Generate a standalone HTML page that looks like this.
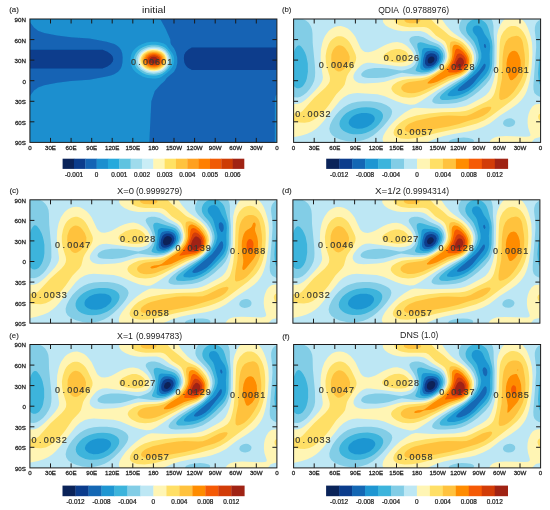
<!DOCTYPE html>
<html><head><meta charset="utf-8"><title>Figure</title><style>html,body{margin:0;padding:0;background:#fff;}
svg{position:absolute;left:0;top:0;}
text{font-family:"Liberation Sans",Arial,sans-serif;fill:#222;}
.ax text{font-size:6.2px;fill:#1e1e1e;stroke:#1e1e1e;stroke-width:0.26px;}
.cb{font-size:6.4px;fill:#1e1e1e;stroke:#1e1e1e;stroke-width:0.24px;}
.pl{font-size:8.1px;fill:#2a2a2a;stroke:#2a2a2a;stroke-width:0.12px;}
.ti{font-size:9.2px;fill:#222;}
.ts{font-size:8.3px;fill:#222;}
.cl{font-family:"Liberation Sans",Arial,sans-serif;font-size:9px;fill:#3a3a32;stroke:#3a3a32;stroke-width:0.2px;}
</style></head>
<body>
<svg width="550" height="510" viewBox="0 0 550 510">
<defs><filter id="sf" x="-2%" y="-2%" width="104%" height="104%"><feGaussianBlur stdDeviation="0.35"/></filter><clipPath id="ca"><rect x="29.9" y="19.0" width="247.0" height="123.4"/></clipPath><clipPath id="cb"><rect x="293.6" y="19.0" width="247.0" height="123.4"/></clipPath><clipPath id="cc"><rect x="29.9" y="199.8" width="247.0" height="123.4"/></clipPath><clipPath id="cd"><rect x="292.9" y="199.8" width="247.0" height="123.4"/></clipPath><clipPath id="ce"><rect x="29.9" y="344.5" width="247.0" height="123.4"/></clipPath><clipPath id="cf"><rect x="293.6" y="344.5" width="247.0" height="123.4"/></clipPath></defs>
<g clip-path="url(#ca)"><g filter="url(#sf)"><rect x="29.9" y="19.0" width="247.0" height="123.4" fill="#1c8fcf"/>
<path d="M147.9 78.0L152.0 78.5 156.1 78.5 159.6 77.8 161.6 76.8 167.1 72.7 170.3 69.7 172.4 67.0 173.7 64.2 174.2 61.5 174.2 58.8 173.7 56.0 172.4 53.3 167.8 47.1 165.8 44.8 163.7 43.5 160.3 42.4 156.1 41.8 151.3 41.8 146.5 42.5 142.4 43.9 138.3 46.1 135.6 48.2 132.8 51.2 131.5 54.0 130.6 57.4 130.5 61.5 131.3 65.6 132.8 69.0 135.6 72.1 139.0 74.6 143.1 76.7 147.6 78.0Z" fill="#26a9dc" fill-rule="evenodd"/>
<path d="M149.3 75.2L152.7 75.6 156.1 75.5 159.6 74.8 162.3 73.7 165.1 71.8 168.0 69.0 170.1 66.3 171.4 63.6 171.9 60.8 171.7 58.1 170.9 55.3 169.4 52.6 167.1 49.6 165.1 47.7 162.3 46.2 158.9 45.2 155.5 44.7 151.3 44.7 147.2 45.5 143.8 46.7 140.5 48.5 138.0 50.5 135.8 53.3 134.4 56.0 133.8 58.8 133.9 62.2 135.0 65.6 136.8 68.4 139.0 70.6 142.4 72.9 145.9 74.4 149.2 75.2Z" fill="#5fc3e0" fill-rule="evenodd"/>
<path d="M153.4 73.9L156.8 73.6 159.6 73.0 162.3 71.8 164.4 70.4 166.5 68.4 168.6 65.6 169.5 63.6 170.1 60.8 170.0 58.8 169.3 56.0 167.9 53.3 165.7 50.5 163.7 48.9 160.9 47.6 158.2 46.8 154.8 46.4 151.3 46.5 147.9 47.2 144.5 48.4 141.7 50.0 139.5 51.9 137.9 54.0 136.5 56.7 136.0 59.4 136.2 62.2 137.1 64.9 138.4 67.0 140.4 69.2 143.1 71.1 146.5 72.7 150.0 73.6 153.1 73.8Z" fill="#9fdbec" fill-rule="evenodd"/>
<path d="M153.4 72.5L156.8 72.3 159.6 71.6 161.6 70.7 163.7 69.3 166.0 67.0 167.4 64.9 168.2 62.9 168.6 60.1 168.3 57.4 167.5 55.3 166.3 53.3 164.4 51.2 162.3 49.8 159.6 48.6 154.1 47.8 150.7 48.0 147.9 48.6 145.2 49.7 143.1 50.9 141.1 52.6 139.4 54.6 138.4 56.7 137.8 59.4 138.0 62.2 138.6 64.2 139.9 66.3 141.8 68.4 143.8 69.8 146.5 71.2 149.3 72.0 152.8 72.5Z" fill="#c9edf6" fill-rule="evenodd"/>
<path d="M151.3 71.2L154.1 71.3 156.8 71.1 159.6 70.3 161.6 69.4 163.7 67.8 165.0 66.3 166.3 64.2 167.1 62.2 167.3 60.1 167.1 58.1 166.5 56.0 165.1 53.6 163.7 52.2 161.6 50.8 156.8 49.2 154.1 48.9 151.3 49.1 148.6 49.7 145.9 50.7 143.8 52.0 141.6 54.0 140.3 56.0 139.5 58.1 139.2 60.1 139.5 62.2 140.3 64.2 141.6 66.3 143.8 68.3 145.9 69.5 150.8 71.1Z" fill="#fff6b4" fill-rule="evenodd"/>
<path d="M150.0 69.9L154.8 70.3 159.6 69.2 163.0 67.0 164.4 65.4 165.4 63.6 166.0 61.5 166.1 59.4 165.7 57.4 164.9 55.3 163.7 53.8 161.6 52.1 157.5 50.4 152.7 50.0 147.9 51.0 144.1 53.3 142.7 54.6 141.4 56.7 140.7 58.8 140.6 60.8 141.7 64.3 143.1 66.1 145.0 67.7 147.2 68.9 149.5 69.7Z" fill="#ffe164" fill-rule="evenodd"/>
<path d="M151.3 69.1L156.1 69.1 160.3 67.7 163.0 65.4 164.7 62.2 164.9 58.8 164.4 56.8 163.6 55.3 162.3 53.9 160.4 52.6 156.1 51.2 151.3 51.2 147.2 52.5 144.3 54.6 143.1 56.1 142.2 58.1 141.9 59.4 142.0 61.5 142.8 63.6 143.7 64.9 145.2 66.4 147.0 67.7 151.1 69.0Z" fill="#ffc33f" fill-rule="evenodd"/>
<path d="M150.0 67.8L154.1 68.3 157.5 67.8 160.9 66.0 163.0 63.6 163.6 62.2 163.9 60.1 163.6 58.1 163.1 56.7 160.9 54.2 157.5 52.5 153.4 52.0 149.3 52.7 145.9 54.6 143.8 57.4 143.3 58.8 143.2 60.8 144.1 63.6 146.5 66.1 149.7 67.7Z" fill="#ffa01f" fill-rule="evenodd"/>
<path d="M151.3 67.1L154.8 67.3 158.2 66.4 160.9 64.5 162.4 62.2 162.7 59.4 161.8 56.7 159.6 54.6 156.1 53.2 152.7 53.0 149.3 53.8 146.5 55.6 144.8 58.1 144.5 60.8 145.6 63.6 147.9 65.7 151.0 67.0Z" fill="#ff7f00" fill-rule="evenodd"/>
<path d="M150.7 65.8L154.1 66.2 156.8 65.8 158.9 64.7 160.7 62.9 161.4 60.8 161.1 58.1 159.6 56.0 156.8 54.5 154.1 54.0 150.7 54.5 148.6 55.5 146.7 57.4 145.9 59.4 145.9 60.8 146.3 62.2 147.9 64.2 150.2 65.6Z" fill="#f05a05" fill-rule="evenodd"/>
<path d="M152.7 65.0L155.5 64.9 157.5 64.1 159.0 62.9 159.9 60.8 159.8 58.8 158.9 57.3 157.2 56.0 154.8 55.3 152.0 55.4 150.0 56.2 148.5 57.4 147.4 59.4 147.6 61.5 148.5 62.9 150.3 64.2 152.4 64.9Z" fill="#cd3c05" fill-rule="evenodd"/>
<path d="M151.3 62.9L154.1 63.5 156.1 62.9 157.1 62.2 157.9 60.8 157.9 59.4 157.1 58.1 156.1 57.3 153.4 56.8 151.3 57.3 150.3 58.1 149.5 59.4 149.5 60.8 150.3 62.2 151.2 62.9Z" fill="#a02314" fill-rule="evenodd"/>
<path d="M150.0 142.4L274.8 142.4 274.9 99.9 275.5 96.0 276.2 95.0 276.9 94.6 276.9 19.0 160.3 19.0 165.8 29.3 170.3 39.6 170.4 42.3 171.1 44.4 174.0 48.3 175.8 51.9 177.2 57.4 177.3 62.9 176.2 67.7 174.0 71.8 166.7 78.0 164.8 80.7 160.4 84.8 154.8 91.0 151.3 101.3 149.3 142.4ZM30.1 95.8L34.0 90.6 37.2 88.2 38.1 87.6 44.3 85.2 57.3 82.8 71.1 81.0 89.6 79.7 105.4 76.8 110.9 75.5 114.3 74.3 118.1 71.8 120.5 69.0 121.8 65.9 122.5 62.2 122.7 57.4 122.2 53.3 121.2 50.3 119.5 47.8 117.3 45.7 114.3 43.9 106.7 41.7 89.6 38.5 71.1 37.2 57.3 35.5 44.3 33.0 38.1 30.7 34.0 27.6 29.9 22.1 29.9 96.1Z" fill="#1464b4" fill-rule="evenodd"/>
<path d="M191.8 69.9L276.9 69.9 276.9 47.6 191.8 47.6 188.4 49.5 185.7 51.9 184.3 54.6 183.8 58.1 184.3 62.2 185.6 65.3 187.9 67.7 191.5 69.7ZM30.6 68.5L102.6 68.5 107.4 66.4 110.6 64.2 112.8 61.5 113.3 58.8 112.4 56.0 110.6 54.0 107.4 51.8 102.6 49.7 29.9 49.7 29.9 68.5Z" fill="#0b3c8c" fill-rule="evenodd"/></g></g>
<rect x="29.9" y="19.0" width="247.0" height="123.4" fill="none" stroke="#1a1a1a" stroke-width="1"/>
<path d="M50.5 19.0v4.5M50.5 142.4v-4.5M71.1 19.0v4.5M71.1 142.4v-4.5M91.7 19.0v4.5M91.7 142.4v-4.5M112.2 19.0v4.5M112.2 142.4v-4.5M132.8 19.0v4.5M132.8 142.4v-4.5M153.4 19.0v4.5M153.4 142.4v-4.5M174.0 19.0v4.5M174.0 142.4v-4.5M194.6 19.0v4.5M194.6 142.4v-4.5M215.2 19.0v4.5M215.2 142.4v-4.5M235.7 19.0v4.5M235.7 142.4v-4.5M256.3 19.0v4.5M256.3 142.4v-4.5M29.9 39.6h4.5M276.9 39.6h-4.5M29.9 60.1h4.5M276.9 60.1h-4.5M29.9 80.7h4.5M276.9 80.7h-4.5M29.9 101.3h4.5M276.9 101.3h-4.5M29.9 121.8h4.5M276.9 121.8h-4.5" stroke="#1a1a1a" stroke-width="1" fill="none"/>
<g class="ax"><text x="29.9" y="149.9" text-anchor="middle">0</text><text x="50.5" y="149.9" text-anchor="middle">30E</text><text x="71.1" y="149.9" text-anchor="middle">60E</text><text x="91.7" y="149.9" text-anchor="middle">90E</text><text x="112.2" y="149.9" text-anchor="middle">120E</text><text x="132.8" y="149.9" text-anchor="middle">150E</text><text x="153.4" y="149.9" text-anchor="middle">180</text><text x="174.0" y="149.9" text-anchor="middle">150W</text><text x="194.6" y="149.9" text-anchor="middle">120W</text><text x="215.2" y="149.9" text-anchor="middle">90W</text><text x="235.7" y="149.9" text-anchor="middle">60W</text><text x="256.3" y="149.9" text-anchor="middle">30W</text><text x="276.9" y="149.9" text-anchor="middle">0</text><text x="25.9" y="21.9" text-anchor="end">90N</text><text x="25.9" y="42.5" text-anchor="end">60N</text><text x="25.9" y="63.0" text-anchor="end">30N</text><text x="25.9" y="83.6" text-anchor="end">0</text><text x="25.9" y="104.2" text-anchor="end">30S</text><text x="25.9" y="124.7" text-anchor="end">60S</text><text x="25.9" y="145.3" text-anchor="end">90S</text></g>
<g clip-path="url(#cb)"><g filter="url(#sf)"><rect x="293.6" y="19.0" width="247.0" height="123.4" fill="#bde7f4"/>
<path d="M383.5 142.0L383.8 142.4 426.6 142.4 436.4 138.3 443.9 135.9 452.1 134.2 469.2 131.3 475.4 129.8 483.0 127.0 489.8 123.4 500.1 115.5 511.1 108.5 517.3 103.9 520.7 100.7 523.1 97.8 525.2 94.4 526.8 91.0 528.2 86.6 529.6 81.0 531.6 67.7 532.5 53.3 532.0 43.0 531.0 37.9 529.3 32.0 527.5 27.2 525.3 23.1 523.4 20.8 521.5 19.0 504.9 19.0 502.9 21.0 500.8 23.9 498.2 30.0 497.0 35.5 496.5 63.6 495.9 69.0 495.0 74.5 493.3 81.5 491.2 87.5 489.0 91.7 486.0 95.1 482.0 97.8 470.4 104.0 465.8 105.9 461.0 107.1 454.2 107.9 432.2 108.5 415.7 107.7 413.0 108.2 410.9 109.0 404.8 112.6 399.3 116.7 394.5 121.1 389.3 126.6 385.7 131.4 383.4 135.5 382.5 139.0 382.7 140.3 383.3 141.7ZM489.8 142.4L531.4 142.4 534.4 138.7 536.5 137.9 540.6 137.1 540.6 104.0 538.5 103.9 535.1 104.5 532.4 106.5 530.0 110.2 528.5 114.3 527.7 118.4 527.6 123.2 528.2 127.7 530.4 134.2 530.4 135.5 529.7 136.2 528.2 136.6 525.5 136.8 506.3 136.1 498.1 136.5 494.6 137.4 492.6 138.4 490.5 140.3 489.2 142.4ZM294.3 137.0L301.8 135.4 307.3 133.7 312.1 131.4 316.2 128.7 319.7 125.6 323.1 121.8 339.6 101.0 343.7 97.3 348.5 94.6 352.6 93.4 357.4 92.9 377.3 94.2 384.2 95.9 396.5 101.2 403.4 103.5 410.2 104.7 414.4 104.4 416.4 103.7 420.5 101.4 436.1 91.0 445.2 85.5 451.2 82.1 460.3 77.6 463.8 75.6 466.5 73.6 469.2 70.8 471.5 67.7 472.8 64.9 474.0 60.1 474.0 56.0 472.7 51.5 470.2 47.1 467.5 43.7 463.8 40.1 454.2 33.4 450.9 30.7 446.0 25.2 441.7 19.0 383.1 19.0 382.9 21.1 383.3 22.4 385.4 25.2 389.0 27.6 393.8 29.6 397.9 30.6 402.7 31.2 416.4 30.9 420.5 31.1 424.0 31.9 426.7 33.3 433.3 38.2 441.1 42.8 443.9 45.5 445.7 49.2 446.8 53.3 447.0 56.7 446.2 60.1 444.8 62.9 443.2 64.9 439.1 68.9 432.9 72.9 426.7 75.4 420.5 76.3 406.1 76.5 401.3 77.0 397.0 78.0 384.9 81.7 378.0 82.8 364.3 83.5 358.8 82.9 356.0 81.6 354.4 80.0 353.4 78.0 353.5 75.2 354.7 72.5 357.4 68.9 360.8 65.5 363.6 63.7 367.0 62.8 370.4 62.7 395.8 66.1 401.3 66.4 406.1 65.9 410.2 64.5 411.6 63.6 412.9 62.2 413.7 60.6 414.1 58.8 414.1 56.7 413.7 54.6 412.4 51.9 411.0 49.9 407.5 46.4 404.8 44.5 402.0 43.1 397.2 42.0 392.4 42.4 387.6 43.9 384.2 45.4 375.9 49.9 371.8 51.6 368.4 52.3 365.0 51.9 362.9 50.7 360.8 48.5 355.3 36.8 352.9 33.4 350.5 30.8 347.8 28.6 344.4 26.9 340.9 26.1 337.5 26.2 334.8 26.9 332.7 27.9 330.7 29.2 328.4 31.3 325.0 36.1 323.4 39.6 322.3 43.0 320.9 49.9 320.6 57.4 321.0 64.2 322.9 77.3 322.5 80.0 321.3 82.8 318.9 86.2 314.7 91.0 308.7 97.1 304.6 100.6 301.8 102.5 299.1 103.6 297.0 104.0 293.6 104.0 293.6 137.1Z" fill="#fff5b4" fill-rule="evenodd"/>
<path d="M400.6 138.4L404.1 138.8 408.2 138.9 417.8 137.8 437.7 132.8 462.4 127.6 476.8 123.4 484.3 120.2 490.8 116.3 510.4 101.4 515.2 97.2 518.6 93.4 521.4 89.6 523.7 85.5 525.5 81.1 527.0 75.9 528.1 69.7 528.8 62.9 529.0 56.0 528.8 50.5 528.2 45.1 527.1 40.3 525.5 36.0 523.4 32.3 521.0 29.3 518.0 27.1 515.2 26.1 513.2 25.9 511.1 26.1 509.0 26.8 507.0 27.9 503.6 31.4 501.1 36.1 500.2 39.6 499.7 43.7 498.9 65.6 497.3 81.4 496.0 87.7 494.5 93.0 493.2 95.8 491.2 98.4 487.1 101.2 472.7 108.2 468.6 109.9 465.1 110.9 459.6 111.7 441.8 112.2 428.8 113.4 416.4 115.4 408.2 118.1 403.5 120.5 399.6 123.2 396.2 126.6 394.1 130.1 393.5 132.8 393.8 134.2 394.5 135.4 396.5 137.0 400.2 138.3ZM299.8 122.5L304.6 122.8 309.4 121.9 313.5 120.1 318.3 116.6 322.4 112.8 325.8 109.0 329.3 104.6 336.1 94.6 342.7 87.6 344.6 84.8 346.8 76.6 348.2 73.8 352.3 67.7 354.7 63.6 356.0 60.1 356.2 57.4 355.6 54.6 354.2 51.2 351.2 45.1 349.2 41.8 347.1 39.5 345.1 37.9 343.0 36.8 340.9 36.3 338.2 36.3 336.1 36.8 334.1 37.9 332.0 39.5 330.2 41.6 328.6 44.3 326.6 49.9 325.6 56.0 325.9 62.2 326.8 67.0 329.6 75.9 330.0 78.6 329.7 81.4 328.4 84.1 325.5 87.6 314.3 97.8 302.5 111.0 301.1 112.0 299.1 112.9 293.6 113.4 293.6 121.0 295.7 121.8 299.7 122.5ZM539.9 120.5L540.6 121.0 540.6 113.4 539.0 114.3 538.1 116.3 538.5 118.8 539.8 120.5ZM404.1 97.3L408.9 97.7 414.4 97.2 419.8 95.7 426.0 93.1 449.2 80.7 459.6 76.4 463.1 74.6 465.9 72.5 468.5 69.7 470.3 67.0 471.5 64.2 472.3 59.4 471.8 55.3 469.7 50.5 466.1 45.7 463.1 42.8 459.6 40.3 451.4 36.7 448.7 35.1 443.0 30.0 435.8 24.5 430.8 19.0 394.9 19.0 394.6 19.7 394.9 21.7 395.9 23.1 398.6 24.9 402.0 26.1 405.4 26.8 409.6 27.2 424.0 27.0 426.7 27.5 428.8 28.4 430.8 30.1 435.9 35.5 443.2 40.2 444.8 41.6 445.9 43.3 446.9 45.7 448.6 53.3 448.7 56.0 448.3 58.8 447.3 61.5 445.6 64.2 443.2 67.0 440.9 69.0 434.3 73.5 428.8 76.3 424.6 77.6 420.5 78.2 408.2 79.1 402.7 80.0 397.3 82.1 393.3 84.8 392.1 86.2 391.4 88.2 391.6 89.6 392.9 91.7 395.1 93.7 397.5 95.1 400.6 96.4 403.4 97.2ZM393.8 62.2L399.3 62.6 404.1 62.2 407.5 60.9 408.9 59.2 409.2 57.4 409.0 56.0 407.5 53.2 406.1 51.8 404.1 50.4 399.9 48.9 395.8 48.9 391.0 50.3 385.9 53.3 384.4 54.6 383.4 56.0 383.2 57.4 383.5 58.1 384.9 59.5 388.3 61.0 393.5 62.2Z" fill="#ffdf66" fill-rule="evenodd"/>
<path d="M408.2 132.2L412.3 132.6 418.5 132.1 432.9 129.2 448.7 126.5 459.1 123.9 467.9 120.9 478.2 117.9 483.3 115.7 487.5 112.9 490.2 110.2 491.3 108.1 491.3 107.4 490.5 106.7 487.8 106.8 483.0 108.1 478.5 110.2 471.3 114.1 466.5 115.7 461.7 116.1 448.7 115.6 441.1 116.0 429.6 117.7 416.4 120.8 410.2 123.3 408.0 124.6 405.8 126.6 404.7 128.7 404.9 130.1 406.1 131.3 408.0 132.1ZM501.5 99.9L504.2 99.2 507.7 97.4 510.6 95.1 513.7 91.7 517.3 86.6 520.7 80.7 522.7 75.9 523.9 71.8 524.8 65.6 525.0 59.4 524.6 54.0 522.9 43.0 522.1 40.3 520.7 37.8 518.6 36.2 516.6 35.8 511.8 36.7 508.4 38.6 506.0 41.6 504.2 46.2 503.3 51.2 502.6 57.4 502.0 78.6 499.8 89.6 499.2 94.4 499.3 98.5 500.1 99.6 500.8 99.9ZM408.2 93.1L411.6 93.3 415.0 93.0 419.2 92.0 423.3 90.6 435.6 85.1 448.7 78.6 461.0 74.2 464.4 72.1 467.0 69.7 469.3 66.3 470.6 62.2 470.5 58.1 469.5 54.6 466.7 49.9 462.4 45.1 459.0 42.7 454.8 41.3 452.1 41.4 450.7 42.1 450.2 43.0 449.7 45.7 450.5 54.0 450.1 58.1 448.2 62.9 445.2 67.0 442.5 69.6 439.1 72.1 430.8 77.0 427.4 78.8 422.6 80.2 409.6 82.0 406.8 82.8 404.1 84.1 402.4 85.5 401.4 86.9 401.2 88.2 401.6 89.6 403.8 91.7 407.9 93.0ZM337.5 71.3L338.9 71.6 340.9 71.2 344.4 68.9 347.8 64.4 349.6 60.1 349.7 56.7 348.2 52.6 345.5 48.5 343.7 46.8 342.3 45.9 340.9 45.4 338.9 45.3 336.8 46.0 335.5 47.0 334.1 48.4 332.8 50.5 331.4 54.6 331.2 59.4 332.1 64.2 334.1 68.4 335.5 69.9 337.1 71.1ZM409.6 23.2L414.4 23.2 418.5 22.3 420.2 21.1 420.3 20.4 419.9 19.7 419.1 19.0 405.2 19.0 404.4 20.4 404.8 21.3 406.4 22.4 408.9 23.1Z" fill="#ffc23e" fill-rule="evenodd"/>
<path d="M428.1 83.6L430.8 83.6 434.3 82.8 437.9 81.4 448.0 76.3 460.3 73.0 463.8 71.1 466.5 68.4 468.1 65.6 469.0 62.9 469.1 59.4 468.4 56.7 466.7 53.3 464.1 49.9 461.0 46.9 458.3 45.2 456.2 44.7 454.8 44.8 453.5 45.6 452.9 46.4 452.4 48.5 452.3 54.6 451.6 58.8 450.0 62.9 447.3 67.2 443.2 71.3 431.2 79.3 428.2 82.1 427.6 82.8 427.6 83.4ZM510.4 80.1L511.1 80.3 512.5 80.0 515.9 77.2 518.6 73.2 520.1 69.0 520.7 64.9 520.5 60.1 519.3 55.9 517.3 52.3 515.9 51.2 514.5 50.8 512.5 51.1 511.1 51.8 509.7 53.1 508.7 54.6 507.2 58.8 506.5 63.6 506.8 69.0 508.4 75.7 509.4 78.6 510.3 80.0Z" fill="#ff8c00" fill-rule="evenodd"/>
<path d="M449.3 72.5L456.2 72.4 461.0 71.1 464.4 68.8 465.9 67.0 466.9 64.9 467.5 62.9 467.5 60.1 467.1 58.1 466.2 56.0 464.4 53.5 462.4 51.3 460.3 49.7 458.3 48.8 456.9 48.8 456.2 49.1 455.2 50.5 453.1 59.4 448.2 70.4 448.1 71.8 449.2 72.5Z" fill="#f55a05" fill-rule="evenodd"/>
<path d="M454.2 70.0L457.6 70.3 461.0 69.4 463.4 67.7 465.3 64.9 465.9 62.2 465.4 58.8 463.8 56.0 461.0 53.8 459.6 53.4 458.3 53.7 457.3 54.6 456.2 56.6 452.6 66.3 452.6 68.4 453.7 69.7Z" fill="#d23c08" fill-rule="evenodd"/>
<path d="M457.6 67.8L459.6 67.7 461.3 67.0 462.7 65.6 463.8 63.6 463.9 61.5 463.5 60.1 462.4 58.4 461.0 57.6 459.6 57.6 458.3 58.5 456.2 62.1 455.5 65.6 456.1 67.0 457.1 67.7Z" fill="#a02314" fill-rule="evenodd"/>
<path d="M449.3 142.4L473.0 142.4 473.7 141.7 473.9 140.3 472.4 139.0 468.6 137.9 463.8 137.6 458.3 138.0 453.1 139.0 449.9 140.3 448.8 141.7 449.0 142.4ZM346.4 141.1L351.9 141.6 358.1 141.2 363.6 140.1 368.4 138.2 373.2 135.4 378.0 131.6 383.1 126.6 387.7 121.1 390.5 117.0 391.7 114.3 392.1 111.6 391.5 109.5 389.7 107.3 386.2 105.1 381.4 103.1 376.6 101.9 370.4 101.3 363.6 101.3 357.4 101.8 351.9 103.1 347.8 104.7 343.7 107.2 339.6 110.7 335.8 115.0 332.5 119.8 330.2 124.6 329.3 128.7 330.0 132.0 332.0 134.9 335.5 137.4 340.3 139.6 346.2 141.0ZM507.0 126.8L509.0 127.0 511.4 126.6 513.2 125.8 514.5 124.5 515.2 122.5 515.0 121.1 513.8 119.7 511.8 118.6 509.7 118.3 507.0 118.8 505.1 119.8 503.7 121.1 503.0 123.2 503.4 124.6 504.8 125.9 506.4 126.6ZM439.7 104.0L448.7 103.7 456.2 102.9 461.7 101.6 466.5 99.7 472.7 96.0 478.9 91.2 485.7 84.8 489.5 80.0 491.3 76.6 492.9 71.8 494.0 67.0 494.4 62.2 494.5 45.1 493.6 34.1 493.5 25.9 492.7 21.7 491.4 19.0 462.1 19.0 461.2 20.4 460.1 22.4 459.2 25.2 459.1 27.9 459.6 30.0 461.6 33.4 470.1 42.3 473.4 47.1 475.1 51.2 476.0 54.6 476.2 58.1 475.6 61.5 474.5 64.9 472.6 68.4 470.1 71.8 467.2 74.6 462.4 78.1 453.0 83.4 442.2 90.3 437.5 93.7 434.0 97.2 432.4 99.9 432.3 101.3 432.6 102.0 433.6 102.8 434.9 103.4 439.2 104.0ZM294.3 97.2L297.7 97.5 300.5 96.8 303.5 95.1 306.7 92.4 309.7 88.9 312.4 84.8 314.2 80.7 315.0 76.6 315.2 72.5 314.9 65.6 312.7 43.0 312.5 33.4 312.0 29.3 310.8 25.9 308.7 22.8 306.0 20.5 302.7 19.0 295.0 19.0 293.6 19.5 293.6 97.0 294.2 97.2ZM539.2 96.5L540.6 97.0 540.6 19.5 538.1 21.1 536.5 22.8 535.6 24.5 534.9 27.2 534.8 30.7 536.0 40.9 536.2 47.1 533.4 85.5 533.5 89.6 534.4 92.9 536.5 95.1 539.1 96.5ZM368.4 78.0L376.6 78.1 384.2 77.4 389.0 76.4 398.6 73.4 402.0 72.8 415.0 74.4 420.5 74.5 424.6 74.2 428.1 73.5 431.5 72.2 434.9 70.4 438.7 67.7 442.5 63.6 443.8 61.5 444.9 58.8 445.2 56.7 445.0 54.0 444.3 51.2 442.9 48.5 440.4 45.8 437.7 44.1 430.2 40.9 423.3 37.3 418.5 36.0 415.0 36.0 411.8 36.8 409.9 38.2 409.4 39.6 409.5 40.9 410.1 42.3 413.7 47.8 415.5 51.2 417.0 56.0 417.0 58.8 416.4 61.5 415.1 64.2 413.3 66.3 411.6 67.5 408.9 68.7 404.8 70.1 402.0 70.5 398.6 70.2 388.3 68.5 382.1 67.9 374.6 68.1 368.4 69.1 365.6 70.1 363.6 71.2 361.6 73.2 361.2 74.5 361.7 75.9 362.9 76.8 365.0 77.5 368.1 78.0Z" fill="#82cde6" fill-rule="evenodd"/>
<path d="M353.3 134.2L357.4 134.3 361.5 133.9 365.6 132.9 369.1 131.5 372.5 129.7 375.9 127.2 378.7 124.6 381.3 121.1 382.6 118.4 383.0 116.3 382.8 114.3 381.7 112.2 380.1 110.7 377.3 109.2 374.0 108.1 370.4 107.5 366.3 107.3 361.5 107.6 357.4 108.3 353.3 109.5 349.9 111.0 346.4 113.1 343.4 115.7 341.3 118.4 339.9 121.1 339.4 123.9 339.9 126.6 341.2 128.7 343.4 130.7 345.7 132.1 349.2 133.4 353.2 134.2ZM442.5 100.0L448.0 100.1 456.2 99.0 461.7 97.5 467.2 95.0 472.7 91.3 479.3 85.5 486.4 78.3 488.5 75.6 489.8 73.1 491.5 68.4 492.2 63.6 492.5 46.4 492.0 41.6 488.5 28.6 487.1 25.1 485.7 23.1 483.7 21.2 481.6 20.0 479.5 19.3 477.5 19.0 474.7 19.2 472.7 19.7 470.6 20.8 468.6 22.4 467.5 23.8 466.5 25.9 466.0 27.9 466.2 30.7 467.0 32.7 468.2 34.8 472.7 39.9 474.3 42.3 476.1 46.2 477.8 51.2 478.5 54.6 478.5 58.1 477.7 61.5 476.4 64.9 473.0 70.4 467.8 75.9 463.8 79.0 446.6 90.3 441.7 94.4 440.2 96.5 439.8 97.8 440.6 99.2 442.2 99.9ZM297.0 88.3L299.1 88.3 301.0 87.6 302.8 86.2 304.4 84.1 305.8 81.4 306.8 78.6 307.9 71.8 307.8 63.6 306.3 56.0 305.0 52.6 303.2 49.2 301.1 46.6 299.8 45.6 298.4 45.4 297.7 45.7 296.3 46.9 295.0 49.2 293.6 52.9 293.6 85.8 295.0 87.2 296.9 88.2ZM540.6 85.8L540.6 52.9 538.9 62.2 538.1 73.2 538.7 80.7 539.4 83.4 540.4 85.5ZM421.9 72.5L426.0 72.3 429.5 71.6 433.6 69.8 436.7 67.7 439.7 64.9 441.7 62.2 442.9 59.4 443.4 56.0 442.9 53.3 441.8 50.9 440.4 49.2 438.4 47.5 434.9 46.1 428.8 44.5 423.3 42.7 420.5 42.2 418.5 42.7 417.8 43.2 417.3 44.4 417.4 47.1 419.2 54.0 419.3 57.4 418.2 63.6 415.6 69.7 415.7 70.4 416.2 71.1 417.1 71.6 421.2 72.5Z" fill="#3cb4dc" fill-rule="evenodd"/>
<path d="M357.4 128.7L362.2 128.5 367.0 127.0 371.1 124.6 373.9 121.5 374.6 119.8 374.8 118.4 374.5 117.0 373.6 115.7 372.5 114.7 370.4 113.7 366.8 112.9 361.5 113.0 356.6 114.3 354.0 115.5 351.9 116.9 349.4 119.8 348.6 122.5 348.9 123.9 349.9 125.5 352.6 127.5 357.2 128.7ZM448.7 96.0L452.8 96.3 459.0 95.2 463.8 93.5 468.6 90.9 474.5 86.2 483.1 77.3 486.4 73.5 488.5 69.8 489.4 67.0 489.9 63.6 489.6 54.6 490.2 47.1 489.8 43.4 488.5 39.7 484.6 34.1 482.0 28.6 480.3 26.5 478.9 25.7 476.8 25.4 474.7 25.9 473.9 26.5 472.9 27.9 472.6 30.0 473.4 32.4 476.7 36.8 477.7 38.9 481.3 53.3 481.4 57.4 479.7 62.9 476.3 69.0 472.3 73.8 466.5 79.0 450.3 91.0 447.9 93.7 447.6 95.1 448.2 95.8ZM424.0 70.4L426.0 70.5 428.8 70.2 433.6 68.3 437.9 64.9 439.5 62.9 440.7 60.8 441.3 58.8 441.5 56.7 441.1 54.6 440.2 52.6 439.1 51.1 437.4 49.9 435.6 49.0 432.9 48.4 428.1 47.9 424.6 47.9 423.2 48.5 422.2 49.9 420.2 67.0 420.5 68.4 421.2 69.4 423.8 70.4Z" fill="#1e96d2" fill-rule="evenodd"/>
<path d="M458.3 91.0L461.0 91.0 465.1 89.5 469.2 86.9 473.1 83.4 484.3 69.5 485.2 67.7 485.7 65.6 485.4 64.2 485.0 63.7 484.3 63.7 483.7 64.2 479.3 70.4 476.2 73.8 459.5 87.6 457.9 89.6 457.7 90.3 458.2 91.0ZM426.0 68.4L429.5 68.3 432.9 67.0 436.3 64.5 438.5 61.5 439.5 58.1 439.1 55.2 438.4 53.9 437.1 52.6 434.3 51.1 430.8 50.7 428.1 51.1 426.0 52.1 424.6 53.9 423.2 58.8 422.7 64.2 422.9 65.6 423.6 67.0 424.6 67.9 425.8 68.4ZM485.0 48.1L485.7 47.9 486.2 46.4 485.5 44.4 485.0 44.0 484.3 44.1 483.9 45.1 484.0 46.4 484.7 47.8Z" fill="#1467b4" fill-rule="evenodd"/>
<path d="M428.1 66.3L430.8 66.0 433.6 64.7 435.6 62.7 437.0 60.3 437.3 58.1 436.8 56.0 434.9 54.1 432.9 53.4 430.8 53.3 428.7 54.0 427.0 55.3 425.8 57.4 425.0 60.8 425.1 63.6 426.0 65.3 428.1 66.3Z" fill="#0b3c8c" fill-rule="evenodd"/>
<path d="M428.8 63.2L430.1 63.5 431.5 63.2 433.7 61.5 434.4 60.1 434.5 58.8 433.6 57.0 432.2 56.4 430.8 56.5 428.8 57.8 427.9 59.4 427.7 60.8 427.9 62.2 428.4 62.9Z" fill="#0a2359" fill-rule="evenodd"/></g></g>
<rect x="293.6" y="19.0" width="247.0" height="123.4" fill="none" stroke="#1a1a1a" stroke-width="1"/>
<path d="M314.2 19.0v4.5M314.2 142.4v-4.5M334.8 19.0v4.5M334.8 142.4v-4.5M355.4 19.0v4.5M355.4 142.4v-4.5M375.9 19.0v4.5M375.9 142.4v-4.5M396.5 19.0v4.5M396.5 142.4v-4.5M417.1 19.0v4.5M417.1 142.4v-4.5M437.7 19.0v4.5M437.7 142.4v-4.5M458.3 19.0v4.5M458.3 142.4v-4.5M478.9 19.0v4.5M478.9 142.4v-4.5M499.4 19.0v4.5M499.4 142.4v-4.5M520.0 19.0v4.5M520.0 142.4v-4.5M293.6 39.6h4.5M540.6 39.6h-4.5M293.6 60.1h4.5M540.6 60.1h-4.5M293.6 80.7h4.5M540.6 80.7h-4.5M293.6 101.3h4.5M540.6 101.3h-4.5M293.6 121.8h4.5M540.6 121.8h-4.5" stroke="#1a1a1a" stroke-width="1" fill="none"/>
<g class="ax"><text x="293.6" y="149.9" text-anchor="middle">0</text><text x="314.2" y="149.9" text-anchor="middle">30E</text><text x="334.8" y="149.9" text-anchor="middle">60E</text><text x="355.4" y="149.9" text-anchor="middle">90E</text><text x="375.9" y="149.9" text-anchor="middle">120E</text><text x="396.5" y="149.9" text-anchor="middle">150E</text><text x="417.1" y="149.9" text-anchor="middle">180</text><text x="437.7" y="149.9" text-anchor="middle">150W</text><text x="458.3" y="149.9" text-anchor="middle">120W</text><text x="478.9" y="149.9" text-anchor="middle">90W</text><text x="499.4" y="149.9" text-anchor="middle">60W</text><text x="520.0" y="149.9" text-anchor="middle">30W</text><text x="540.6" y="149.9" text-anchor="middle">0</text></g>
<g clip-path="url(#cc)"><g filter="url(#sf)"><rect x="29.9" y="199.8" width="247.0" height="123.4" fill="#bde7f4"/>
<path d="M119.8 323.0L163.1 323.2 172.8 319.1 180.2 316.8 188.4 315.0 205.5 312.2 211.7 310.7 219.3 307.9 226.1 304.3 236.4 296.4 248.2 288.9 254.3 284.4 257.5 281.4 259.7 278.6 261.8 275.2 263.6 271.1 265.1 266.3 266.4 260.8 268.3 247.1 269.0 233.4 268.9 227.9 268.4 223.1 267.3 217.7 265.6 212.1 263.9 207.5 261.8 203.7 258.4 199.8 240.6 199.8 238.7 201.9 237.1 204.2 234.6 210.1 233.2 216.3 232.7 244.4 232.1 249.8 231.1 255.3 229.5 262.2 227.4 268.4 225.3 272.5 222.2 275.9 218.2 278.6 206.7 284.8 202.1 286.7 197.3 287.9 190.5 288.7 168.5 289.3 152.0 288.4 150.0 288.7 147.9 289.4 142.4 292.5 136.2 296.9 130.8 301.8 126.2 306.7 121.9 312.2 119.6 316.3 118.8 319.8 118.9 321.1 119.4 322.5ZM225.4 323.2L268.2 323.2 271.5 319.8 273.0 319.1 276.9 318.2 276.9 284.7 274.8 284.6 271.4 285.2 268.9 286.9 266.9 289.6 264.8 294.4 263.9 298.5 263.7 303.3 264.3 308.1 266.1 314.3 266.1 315.7 265.7 316.3 264.4 317.0 261.1 317.4 241.9 316.8 233.7 317.3 230.9 318.1 228.8 319.1 226.8 320.9 225.4 323.2ZM30.6 318.1L37.4 316.6 43.6 314.6 48.4 312.4 52.5 309.6 56.0 306.5 59.4 302.7 75.9 282.0 80.0 278.2 84.8 275.5 88.9 274.3 93.7 273.8 113.6 275.1 120.5 276.8 133.5 282.3 139.7 284.4 146.5 285.7 148.6 285.8 150.7 285.4 153.4 284.3 156.8 282.3 171.4 272.5 179.3 267.7 187.8 262.9 196.6 258.5 200.1 256.6 202.8 254.5 205.5 251.7 207.4 249.2 209.2 245.7 210.4 240.9 210.4 236.8 209.3 232.7 206.7 227.9 204.0 224.5 200.1 220.7 189.9 213.5 186.8 210.8 182.0 205.3 178.2 199.8 119.2 199.8 119.2 202.5 120.8 205.3 124.4 208.0 129.4 210.2 133.5 211.3 138.3 212.0 152.7 211.8 156.8 212.0 160.3 212.8 163.0 214.3 169.3 219.0 177.4 223.8 180.2 226.5 181.9 230.0 183.0 234.1 183.2 237.5 182.4 240.9 180.9 243.7 179.4 245.7 175.1 249.8 168.5 254.0 162.3 256.4 156.8 257.2 142.4 257.3 137.6 257.8 133.2 258.8 121.2 262.4 115.0 263.5 101.3 264.2 97.8 264.1 95.1 263.6 92.3 262.3 90.8 260.8 89.8 258.8 89.9 256.0 91.1 253.3 93.7 249.8 96.5 247.0 99.2 245.1 102.6 243.9 106.7 243.7 132.1 247.1 137.6 247.3 142.4 246.9 146.5 245.5 148.1 244.4 149.3 243.0 150.2 240.9 150.6 238.9 150.4 236.8 149.8 234.8 147.2 230.3 143.1 226.4 138.3 223.7 133.5 222.6 129.4 222.9 124.6 224.2 119.8 226.3 111.7 230.7 108.1 232.1 104.7 232.8 101.3 232.4 99.2 231.3 97.1 229.1 91.7 217.6 89.4 214.2 86.8 211.4 83.4 208.9 80.0 207.3 76.6 206.7 73.1 207.0 70.4 207.9 68.3 208.9 66.3 210.5 64.2 212.5 60.8 217.6 58.5 223.8 57.2 230.7 56.8 238.2 57.3 245.0 59.1 258.1 58.7 260.8 57.5 263.6 55.2 267.0 50.9 271.8 45.0 277.8 40.9 281.3 38.1 283.2 35.4 284.3 33.3 284.7 29.9 284.7 29.9 318.2Z" fill="#fff5b4" fill-rule="evenodd"/>
<path d="M141.1 319.8L147.9 319.6 156.1 318.3 174.3 313.6 200.7 307.9 209.0 305.7 215.2 303.5 222.0 300.4 228.2 296.6 248.1 281.4 253.4 276.6 256.4 273.2 259.2 269.0 261.2 264.9 263.1 259.4 264.4 253.3 265.3 247.1 265.8 239.6 265.7 232.7 265.3 227.2 264.3 222.4 263.0 218.3 261.1 214.1 259.1 211.0 256.3 208.3 253.6 206.6 250.1 205.8 248.1 205.9 246.0 206.4 244.0 207.3 242.1 208.7 239.1 212.1 236.9 216.9 235.7 223.8 234.9 246.4 233.3 262.2 232.1 268.4 230.8 273.2 229.6 276.2 227.8 278.6 225.4 280.6 222.9 282.1 207.6 289.5 202.1 291.5 195.9 292.4 176.7 293.0 162.3 294.5 151.3 296.5 147.2 297.7 143.1 299.4 138.3 302.1 134.2 305.5 130.9 309.5 129.6 312.9 129.7 314.3 130.1 315.7 132.2 317.7 135.8 319.1 140.8 319.8ZM36.1 304.1L40.9 304.2 45.7 303.2 49.8 301.3 54.6 297.8 58.0 294.6 62.1 290.1 65.7 285.5 72.4 275.8 79.4 268.4 81.3 265.6 83.3 257.4 84.7 254.6 91.2 244.4 92.6 240.9 92.9 238.2 92.4 236.1 91.3 233.4 87.7 225.9 85.6 222.4 83.4 220.0 81.4 218.4 79.3 217.4 77.2 216.8 75.2 216.8 73.1 217.2 71.1 218.0 68.7 219.7 66.9 221.6 65.4 223.8 64.1 226.5 62.9 230.0 61.8 236.1 61.9 242.3 62.8 247.4 65.7 256.7 66.1 259.4 65.7 262.2 64.4 264.9 61.5 268.4 50.4 278.6 38.8 291.1 36.8 292.5 35.4 293.1 29.9 293.5 29.9 302.7 32.0 303.4 35.6 304.0ZM276.9 302.7L276.9 293.5 275.5 294.0 274.4 295.1 273.9 296.5 273.8 297.8 274.6 300.6 275.5 301.7 276.8 302.6ZM139.7 278.1L145.2 278.6 150.7 278.1 156.1 276.6 162.3 274.0 185.6 261.7 195.9 257.4 199.4 255.6 202.5 253.3 204.9 250.8 206.8 247.8 208.0 245.0 208.9 240.2 208.3 236.1 206.3 231.3 202.8 226.5 200.0 223.8 196.6 221.2 193.2 219.3 187.7 217.0 185.4 215.6 179.5 210.3 173.0 205.3 167.5 199.8 130.9 199.8 130.7 201.9 131.9 203.9 134.2 205.5 137.6 206.8 141.1 207.6 145.2 208.0 159.6 208.0 162.3 208.5 164.4 209.4 166.4 211.0 171.9 216.6 178.8 221.0 180.8 222.8 182.2 224.9 183.1 227.2 184.7 234.1 184.8 236.8 184.4 239.6 183.3 242.3 181.6 245.0 179.3 247.8 176.7 250.0 169.2 255.0 164.4 257.3 160.3 258.5 144.5 259.8 138.6 260.8 133.3 262.9 129.3 265.6 128.1 267.0 127.5 268.4 127.4 269.7 128.3 271.8 130.3 273.8 132.8 275.5 135.6 276.9 139.1 278.0ZM132.1 243.7L137.6 243.8 141.7 243.2 143.8 242.4 144.8 241.6 146.0 239.6 146.2 238.2 145.8 236.1 144.6 234.1 143.5 232.7 141.7 231.3 139.7 230.1 135.6 229.0 130.8 229.4 125.4 231.3 120.2 234.8 119.0 236.1 118.4 237.5 118.6 238.9 119.1 239.6 121.8 241.4 126.6 242.9 132.0 243.7Z" fill="#ffdf66" fill-rule="evenodd"/>
<path d="M147.2 313.6L150.7 313.6 155.5 313.0 187.7 306.9 193.8 305.4 213.7 299.2 220.1 296.5 223.4 294.4 225.8 292.4 227.6 290.3 228.5 288.2 228.2 287.2 226.8 286.8 222.7 287.5 218.6 288.9 207.6 294.6 202.8 296.2 198.0 296.6 183.6 296.3 176.0 296.8 161.6 299.2 150.9 301.9 147.2 303.4 143.9 305.4 141.7 307.3 140.8 308.8 140.6 310.9 141.7 312.2 143.8 313.1 146.7 313.6ZM236.4 281.4L239.2 281.0 243.3 279.2 246.7 276.7 249.6 273.8 253.0 269.7 256.5 264.2 258.8 259.4 260.5 254.6 261.7 247.8 262.1 240.9 261.8 234.6 260.6 226.5 259.5 221.7 258.3 219.0 256.3 216.7 253.6 215.3 251.5 215.0 248.8 215.1 246.7 215.7 244.7 216.8 241.9 219.9 240.7 222.4 239.8 225.0 239.0 229.3 238.4 235.4 237.5 259.4 235.6 271.1 235.0 276.6 235.0 280.1 235.3 280.7 236.2 281.4ZM143.1 273.9L146.5 274.3 150.7 274.1 154.8 273.2 158.9 271.8 171.9 266.2 185.6 259.5 197.3 255.3 200.7 253.3 203.0 251.2 205.5 247.8 207.0 243.7 207.3 239.6 206.5 236.1 204.0 231.3 200.0 226.5 195.9 223.4 191.8 221.7 189.8 221.3 187.7 221.4 186.3 222.1 185.7 223.1 185.5 225.9 186.4 234.1 186.2 238.2 184.6 243.0 181.1 247.8 178.1 250.5 174.7 253.0 167.1 257.6 163.0 259.7 158.2 260.9 145.9 262.6 142.6 263.6 139.9 264.9 137.7 267.0 137.1 268.4 137.1 269.7 137.8 271.1 139.0 272.2 140.8 273.2 142.9 273.8ZM73.8 252.8L75.2 253.0 77.2 252.6 80.7 250.2 84.2 245.7 85.5 243.3 86.3 240.9 86.4 237.5 84.8 233.1 82.0 229.0 80.3 227.2 78.6 226.2 77.2 225.7 75.2 225.6 73.1 226.3 71.8 227.2 70.4 228.5 69.0 230.7 67.4 235.4 67.1 240.2 68.3 245.7 70.4 249.8 71.8 251.4 73.4 252.6ZM144.5 204.0L150.0 204.3 153.3 203.9 155.7 203.2 156.9 202.5 157.4 201.9 157.4 201.2 156.2 199.8 140.8 199.8 140.2 200.5 140.2 201.9 141.7 203.1 143.9 203.9Z" fill="#ffc23e" fill-rule="evenodd"/>
<path d="M243.3 270.0L244.7 269.5 246.0 268.2 253.6 258.9 255.7 255.3 257.4 250.5 258.0 246.4 258.0 241.6 257.2 236.8 255.1 230.7 255.0 228.6 255.7 225.2 255.6 223.8 254.9 222.7 254.3 222.4 253.2 223.1 251.8 226.5 250.8 227.8 247.4 229.7 245.3 231.6 243.8 234.1 242.7 237.5 241.9 241.6 241.7 245.7 242.0 250.5 243.3 260.1 243.2 262.9 242.3 267.7 242.4 269.0 242.8 269.7ZM152.0 268.4L156.1 267.7 160.3 266.0 167.1 265.1 171.2 263.9 185.0 257.5 194.6 254.9 197.2 254.0 200.1 252.3 202.1 250.5 204.5 247.1 205.7 243.7 205.8 240.2 205.0 236.8 202.8 232.9 199.2 228.6 195.9 226.0 192.5 224.6 191.1 224.6 189.8 225.0 188.5 226.5 188.0 229.3 188.1 236.1 187.5 239.6 185.5 244.4 182.2 248.9 178.1 252.5 169.5 258.1 161.6 264.0 158.9 265.1 154.3 265.6 151.8 266.3 150.7 267.0 150.4 267.7 151.6 268.4Z" fill="#ff8c00" fill-rule="evenodd"/>
<path d="M179.5 255.7L193.9 253.6 196.6 252.8 198.7 251.8 201.1 249.8 203.1 247.1 204.2 244.4 204.4 240.9 203.8 238.2 202.8 236.1 199.4 231.7 197.3 229.9 195.3 228.5 193.2 228.0 191.8 228.4 191.0 229.3 190.5 230.7 189.4 238.2 187.5 243.7 183.6 250.4 179.4 255.3ZM248.8 251.3L250.1 251.6 251.5 250.9 252.7 249.2 253.3 247.1 253.5 245.0 253.4 243.0 252.7 240.9 251.5 239.4 250.1 238.9 248.8 239.3 247.4 240.9 246.7 242.9 246.5 245.0 246.7 247.8 247.4 249.7 248.6 251.2Z" fill="#f55a05" fill-rule="evenodd"/>
<path d="M190.5 252.0L194.6 251.8 198.1 250.5 200.0 249.2 201.2 247.8 202.7 244.4 202.8 240.9 201.4 237.3 198.7 234.1 196.6 232.8 195.3 232.4 193.9 232.7 192.5 234.6 187.7 247.8 187.4 249.2 187.5 250.5 188.4 251.4 189.9 251.9Z" fill="#d23c08" fill-rule="evenodd"/>
<path d="M193.2 249.9L195.9 249.7 198.0 248.7 200.1 246.7 201.1 244.4 201.2 241.6 200.5 239.6 198.7 237.4 196.6 236.4 195.3 236.6 193.9 237.9 192.5 240.2 190.9 244.4 190.4 246.4 190.5 247.8 191.2 249.2 192.8 249.8Z" fill="#a02314" fill-rule="evenodd"/>
<path d="M185.0 322.8L185.1 323.2 209.5 323.2 210.3 322.1 210.4 321.1 209.0 319.8 206.9 319.1 202.8 318.5 198.0 318.4 193.2 318.9 189.2 319.8 186.0 321.1 184.9 322.5ZM82.0 321.9L87.5 322.5 93.7 322.2 98.5 321.4 104.0 319.5 108.8 316.8 113.6 313.1 118.4 308.5 123.0 303.3 126.0 299.2 127.9 295.8 128.6 293.0 128.0 290.4 126.2 288.2 122.5 285.8 118.4 284.0 113.6 282.8 107.4 282.0 100.6 282.0 93.7 282.6 88.2 283.8 84.1 285.4 80.0 287.9 75.9 291.4 72.5 295.1 69.1 299.9 66.7 304.7 65.6 308.8 65.9 312.2 67.6 315.2 71.1 318.0 75.9 320.3 81.7 321.8ZM242.6 307.5L244.7 307.9 247.4 307.6 249.5 306.8 250.9 305.4 251.5 304.0 251.4 301.9 250.1 300.3 248.1 299.3 246.0 299.0 243.3 299.5 241.2 300.6 239.9 301.9 239.2 304.0 239.6 305.4 240.9 306.7 242.4 307.4ZM174.7 284.8L181.5 284.8 191.8 284.0 197.3 282.8 202.1 281.0 208.3 277.4 214.0 273.2 222.0 265.9 225.4 261.7 227.5 257.8 229.1 253.3 230.2 248.5 230.7 243.7 230.8 225.9 229.9 214.9 229.9 206.0 229.3 202.5 228.0 199.8 198.0 199.8 197.1 201.2 195.8 203.9 195.2 206.0 195.1 208.7 195.6 210.8 196.7 212.8 198.3 214.9 206.9 223.8 210.0 228.6 211.6 232.7 212.4 236.1 212.4 239.6 211.7 243.0 210.4 246.4 208.5 249.8 205.7 253.3 202.8 256.0 198.7 258.9 189.3 264.2 178.5 271.1 173.8 274.5 170.8 277.3 169.2 279.3 168.6 280.7 168.5 282.1 168.8 282.8 170.7 284.1 174.3 284.8ZM30.6 278.0L34.0 278.3 36.8 277.6 39.8 275.9 43.1 273.2 46.1 269.7 48.8 265.6 50.6 261.5 51.4 257.4 51.3 247.1 49.2 224.5 48.9 213.5 48.5 210.1 47.3 206.7 45.5 203.9 42.9 201.6 39.5 199.8 30.8 199.8 29.9 200.2 29.9 277.9 30.2 278.0ZM275.5 277.4L276.9 277.9 276.9 200.2 274.8 201.3 272.8 203.4 271.8 205.3 271.1 208.0 271.1 211.5 272.4 221.7 272.6 227.9 269.7 267.0 269.9 271.1 270.8 273.8 272.6 275.9 275.2 277.3ZM104.0 258.8L112.2 259.0 119.8 258.3 125.3 257.2 134.9 254.2 138.3 253.6 152.0 255.3 156.8 255.4 160.9 255.1 164.4 254.4 167.8 253.0 171.2 251.2 175.0 248.5 178.9 244.4 180.1 242.3 181.2 239.6 181.5 237.5 181.4 234.8 180.6 232.0 179.2 229.3 176.8 226.5 174.0 224.8 166.7 221.7 159.6 218.0 154.8 216.8 151.3 216.8 148.0 217.6 146.1 219.0 145.6 220.4 146.5 223.1 150.0 228.6 151.7 232.0 153.2 236.8 153.2 239.6 152.4 243.0 151.3 245.1 149.3 247.3 147.2 248.7 143.8 250.1 138.3 251.4 134.9 251.1 124.6 249.3 118.4 248.7 111.5 248.8 104.8 249.8 101.9 250.8 99.9 251.9 98.3 253.3 97.4 255.3 97.8 256.6 98.7 257.4 100.6 258.2 103.8 258.8Z" fill="#82cde6" fill-rule="evenodd"/>
<path d="M88.2 315.0L92.3 315.3 96.5 315.1 100.6 314.3 104.0 313.1 107.4 311.5 110.9 309.3 114.3 306.3 116.9 303.3 118.6 300.6 119.5 297.8 119.5 295.8 118.8 293.7 117.0 291.7 114.7 290.3 111.5 289.1 108.1 288.3 104.0 287.9 99.2 288.1 95.1 288.6 91.0 289.6 86.8 291.2 83.6 293.0 80.7 295.3 78.3 297.8 76.5 300.6 75.6 303.3 75.6 306.1 76.6 308.7 78.4 310.9 81.4 312.9 84.8 314.2 88.1 315.0ZM178.1 280.8L183.6 281.1 191.8 280.2 198.0 278.6 203.5 276.1 209.0 272.5 215.3 267.0 222.7 259.6 224.8 256.9 226.1 254.4 227.8 249.8 228.7 244.4 228.9 227.2 228.5 222.4 225.0 208.7 224.0 206.0 222.7 203.9 220.7 201.9 218.6 200.6 216.6 199.8 209.6 199.8 206.9 201.0 204.8 202.5 203.2 204.6 202.2 206.7 201.8 208.7 202.0 211.5 202.8 213.5 204.6 216.3 208.9 221.1 210.3 223.2 212.2 227.2 213.9 232.0 214.6 235.4 214.6 238.9 213.8 242.3 212.2 246.4 208.7 251.9 203.5 257.1 200.1 259.7 183.7 270.4 178.5 274.5 176.7 276.6 175.9 278.6 176.5 280.0 177.7 280.7ZM32.6 269.2L34.7 269.6 36.8 269.0 38.8 267.7 40.2 266.1 41.8 263.6 42.9 260.8 43.8 257.4 44.4 253.3 44.4 245.0 43.8 240.9 42.8 236.8 41.6 233.2 39.5 229.3 37.4 226.6 36.1 225.5 34.7 225.3 34.0 225.6 32.6 226.9 31.3 229.3 29.9 233.2 29.9 267.1 32.2 269.0ZM276.9 267.1L276.9 233.2 275.1 243.0 274.4 254.6 274.9 262.2 275.7 264.9 276.9 267.0ZM156.1 253.3L160.3 253.5 163.7 253.1 167.1 252.0 171.2 249.8 174.8 247.1 177.7 243.7 179.1 240.9 179.8 237.5 179.5 234.8 178.8 232.7 177.4 230.5 175.4 228.5 171.9 226.9 157.5 222.8 156.1 222.7 154.6 223.1 153.8 223.8 153.2 225.2 153.5 227.9 155.3 234.8 155.4 238.9 154.1 245.0 151.6 250.5 151.6 251.2 152.0 251.9 153.1 252.6 155.8 253.3Z" fill="#3cb4dc" fill-rule="evenodd"/>
<path d="M91.7 309.6L96.5 309.8 101.3 308.9 106.0 306.7 109.5 303.8 110.8 301.9 111.4 300.6 111.6 299.2 111.3 297.8 110.5 296.5 108.9 295.1 105.2 293.7 99.9 293.4 94.4 294.3 89.6 296.3 86.1 299.2 85.2 300.6 84.5 302.6 84.5 304.0 84.9 305.4 85.9 306.7 87.5 308.0 91.3 309.5ZM185.0 277.3L189.8 277.4 195.3 276.4 200.7 274.4 205.4 271.8 211.3 267.0 220.1 258.1 223.4 254.0 225.2 250.5 226.1 247.3 226.5 244.4 226.3 235.4 226.8 227.9 226.4 223.8 225.2 220.4 221.6 214.2 219.1 208.7 217.2 206.4 214.5 205.1 211.7 205.2 209.7 206.2 208.2 208.0 207.7 210.1 207.8 211.5 208.7 213.5 212.3 218.3 213.4 220.4 217.0 233.4 217.4 236.1 217.2 238.2 215.6 243.7 212.2 249.8 210.1 252.6 206.9 256.0 202.1 260.0 188.7 269.7 184.8 273.2 183.7 274.5 183.3 275.9 183.6 276.6 184.9 277.3ZM158.9 251.3L160.9 251.6 163.7 251.5 168.5 250.0 173.0 247.1 175.0 245.0 176.5 243.0 177.5 240.9 178.0 238.9 178.0 236.8 177.5 234.8 176.4 232.7 175.2 231.3 173.3 230.1 171.2 229.3 167.1 228.5 161.6 228.1 159.6 228.4 158.2 229.7 157.8 231.3 157.4 238.2 156.1 247.8 156.6 249.8 157.2 250.5 158.6 251.2Z" fill="#1e96d2" fill-rule="evenodd"/>
<path d="M193.2 272.8L194.6 272.9 197.3 272.5 202.1 270.6 206.9 267.4 211.6 262.9 220.0 253.1 222.1 249.8 222.9 247.8 223.3 245.0 222.8 242.3 222.0 241.2 221.3 241.2 220.0 242.5 215.4 249.8 212.1 254.0 206.9 258.6 194.9 268.4 192.6 271.1 192.4 271.8 192.6 272.5ZM160.9 249.3L162.3 249.7 164.4 249.7 168.5 248.5 171.9 246.3 174.8 243.0 176.1 239.6 176.0 236.8 174.7 233.9 173.3 232.7 171.9 231.9 168.5 231.1 165.1 231.2 162.3 232.0 160.9 233.4 159.6 237.3 158.5 244.4 158.9 247.2 159.6 248.4 160.6 249.2ZM221.3 231.9L222.0 232.0 222.7 231.5 223.4 230.2 223.8 227.9 223.4 224.8 222.0 222.8 220.6 222.3 220.0 222.4 219.2 223.1 218.7 224.5 219.0 227.9 220.7 231.3Z" fill="#1467b4" fill-rule="evenodd"/>
<path d="M163.0 247.4L165.1 247.7 167.9 247.1 170.6 245.5 172.9 243.0 174.0 240.6 174.2 238.2 173.3 235.9 171.2 234.1 169.2 233.5 166.4 233.5 164.4 234.3 162.5 236.1 161.1 239.6 160.6 243.0 161.1 245.7 162.4 247.1Z" fill="#0b3c8c" fill-rule="evenodd"/>
<path d="M165.1 245.2L166.4 245.3 168.5 244.6 169.9 243.7 171.4 241.6 171.9 239.6 171.6 238.2 170.6 236.9 169.2 236.2 167.1 236.1 165.8 236.7 164.7 237.5 163.7 238.9 163.1 240.9 163.0 242.6 163.7 244.4 164.6 245.0Z" fill="#0a2359" fill-rule="evenodd"/></g></g>
<rect x="29.9" y="199.8" width="247.0" height="123.4" fill="none" stroke="#1a1a1a" stroke-width="1"/>
<path d="M50.5 199.8v4.5M50.5 323.2v-4.5M71.1 199.8v4.5M71.1 323.2v-4.5M91.7 199.8v4.5M91.7 323.2v-4.5M112.2 199.8v4.5M112.2 323.2v-4.5M132.8 199.8v4.5M132.8 323.2v-4.5M153.4 199.8v4.5M153.4 323.2v-4.5M174.0 199.8v4.5M174.0 323.2v-4.5M194.6 199.8v4.5M194.6 323.2v-4.5M215.2 199.8v4.5M215.2 323.2v-4.5M235.7 199.8v4.5M235.7 323.2v-4.5M256.3 199.8v4.5M256.3 323.2v-4.5M29.9 220.4h4.5M276.9 220.4h-4.5M29.9 240.9h4.5M276.9 240.9h-4.5M29.9 261.5h4.5M276.9 261.5h-4.5M29.9 282.1h4.5M276.9 282.1h-4.5M29.9 302.6h4.5M276.9 302.6h-4.5" stroke="#1a1a1a" stroke-width="1" fill="none"/>
<g class="ax"><text x="25.9" y="202.7" text-anchor="end">90N</text><text x="25.9" y="223.3" text-anchor="end">60N</text><text x="25.9" y="243.8" text-anchor="end">30N</text><text x="25.9" y="264.4" text-anchor="end">0</text><text x="25.9" y="285.0" text-anchor="end">30S</text><text x="25.9" y="305.5" text-anchor="end">60S</text><text x="25.9" y="326.1" text-anchor="end">90S</text></g>
<g clip-path="url(#cd)"><g filter="url(#sf)"><rect x="292.9" y="199.8" width="247.0" height="123.4" fill="#bde7f4"/>
<path d="M382.8 322.8L383.1 323.2 425.9 323.2 435.7 319.1 443.2 316.7 451.4 315.0 468.5 312.1 474.7 310.6 482.3 307.8 489.1 304.2 499.4 296.3 510.4 289.3 516.6 284.7 520.0 281.5 522.4 278.6 524.5 275.2 526.1 271.8 527.5 267.4 528.9 261.8 530.9 248.5 531.8 234.1 531.3 223.8 530.3 218.7 528.6 212.8 526.8 208.0 524.6 203.9 522.7 201.6 520.8 199.8 504.2 199.8 502.2 201.8 500.1 204.7 497.5 210.8 496.3 216.3 495.8 244.4 495.2 249.8 494.3 255.3 492.6 262.3 490.5 268.3 488.3 272.5 485.3 275.9 481.3 278.6 469.7 284.8 465.1 286.7 460.3 287.9 453.4 288.7 431.5 289.3 415.0 288.5 412.3 289.0 410.2 289.8 404.0 293.4 398.6 297.5 393.8 301.9 388.6 307.4 385.0 312.2 382.7 316.3 381.8 319.8 382.0 321.1 382.6 322.5ZM489.1 323.2L530.7 323.2 533.7 319.5 535.8 318.7 539.9 317.9 539.9 284.8 537.8 284.7 534.4 285.3 531.7 287.3 529.3 291.0 527.8 295.1 527.0 299.2 526.9 304.0 527.5 308.5 529.7 315.0 529.7 316.3 529.0 317.0 527.5 317.4 524.8 317.6 505.6 316.9 497.4 317.3 493.9 318.2 491.9 319.2 489.8 321.1 488.5 323.2ZM293.6 317.8L301.1 316.2 306.6 314.5 311.4 312.2 315.5 309.5 319.0 306.4 322.4 302.6 338.9 281.8 343.0 278.1 347.8 275.4 351.9 274.2 356.7 273.7 376.6 275.0 383.5 276.7 395.8 282.0 402.7 284.3 409.5 285.5 413.7 285.2 415.7 284.5 419.8 282.2 435.4 271.8 444.5 266.3 450.5 262.9 459.6 258.4 463.1 256.4 465.8 254.4 468.5 251.6 470.8 248.5 472.1 245.7 473.3 240.9 473.3 236.8 472.0 232.3 469.5 227.9 466.8 224.5 463.1 220.9 453.5 214.2 450.2 211.5 445.3 206.0 441.0 199.8 382.4 199.8 382.2 201.9 382.6 203.2 384.7 206.0 388.3 208.4 393.1 210.4 397.2 211.4 402.0 212.0 415.7 211.7 419.8 211.9 423.3 212.7 426.0 214.1 432.6 219.0 440.4 223.6 443.2 226.3 445.0 230.0 446.1 234.1 446.3 237.5 445.5 240.9 444.1 243.7 442.5 245.7 438.4 249.7 432.2 253.7 426.0 256.2 419.8 257.1 405.4 257.3 400.6 257.8 396.3 258.8 384.2 262.5 377.3 263.6 363.6 264.3 358.1 263.7 355.3 262.4 353.7 260.8 352.7 258.8 352.8 256.0 354.0 253.3 356.7 249.7 359.5 246.9 362.2 245.0 365.6 243.8 369.7 243.6 395.1 247.0 400.6 247.3 405.4 246.8 409.5 245.5 411.2 244.4 412.3 243.0 413.3 240.9 413.7 238.9 413.5 236.8 413.0 234.9 411.9 232.7 410.2 230.3 406.1 226.5 401.3 223.8 396.5 222.7 392.4 223.0 387.6 224.3 383.5 226.1 375.0 230.7 371.1 232.2 367.7 232.9 364.3 232.5 362.2 231.4 360.1 229.2 354.6 217.6 352.2 214.2 349.8 211.6 347.1 209.4 343.7 207.7 340.2 206.9 336.8 207.0 334.1 207.7 332.0 208.7 329.9 210.0 327.7 212.1 324.3 216.9 322.7 220.4 321.6 223.8 320.2 230.7 319.9 238.2 320.3 245.0 322.2 258.1 321.8 260.8 320.6 263.6 318.2 267.0 314.0 271.8 308.0 277.9 303.9 281.4 301.1 283.3 298.4 284.4 296.3 284.8 292.9 284.8 292.9 317.9Z" fill="#fff5b4" fill-rule="evenodd"/>
<path d="M399.9 319.2L403.4 319.6 407.5 319.7 417.1 318.6 437.0 313.6 461.7 308.4 476.1 304.2 483.6 301.0 490.1 297.1 509.7 282.2 514.5 278.0 517.9 274.2 520.7 270.4 523.0 266.3 524.8 261.9 526.3 256.7 527.4 250.5 528.1 243.7 528.3 236.8 528.1 231.3 527.5 225.9 526.4 221.1 524.8 216.8 522.7 213.1 520.3 210.1 517.3 207.9 514.5 206.9 512.5 206.7 510.4 206.9 508.3 207.6 506.3 208.7 502.8 212.2 500.4 216.9 499.5 220.4 499.0 224.5 498.2 246.4 496.6 262.2 495.3 268.5 493.8 273.8 492.5 276.6 490.5 279.2 486.4 282.0 472.0 289.0 467.9 290.7 464.4 291.7 458.9 292.5 441.1 293.0 428.1 294.2 415.7 296.2 407.5 298.9 402.8 301.3 398.9 304.0 395.5 307.4 393.4 310.9 392.8 313.6 393.1 315.0 393.8 316.2 395.8 317.8 399.5 319.1ZM299.1 303.3L303.9 303.6 308.7 302.7 312.8 300.9 317.6 297.4 321.7 293.6 325.1 289.8 328.6 285.4 335.4 275.4 342.0 268.4 343.9 265.6 346.1 257.4 347.5 254.6 351.6 248.5 354.0 244.4 355.4 240.9 355.6 238.2 355.2 236.1 353.8 232.7 350.5 225.9 348.5 222.6 346.4 220.3 344.4 218.7 342.3 217.6 340.2 217.1 337.5 217.1 335.4 217.6 333.4 218.7 331.3 220.3 329.5 222.4 327.9 225.1 325.9 230.7 324.9 236.8 325.2 243.0 326.1 247.8 328.9 256.7 329.3 259.4 329.0 262.2 327.7 264.9 324.8 268.4 313.6 278.6 301.8 291.8 300.4 292.8 298.4 293.7 292.9 294.2 292.9 301.8 295.0 302.6 299.0 303.3ZM539.2 301.3L539.9 301.8 539.9 294.2 538.3 295.1 537.4 297.1 537.8 299.6 539.1 301.3ZM403.4 278.1L408.2 278.5 413.7 278.0 419.1 276.5 425.3 273.9 448.5 261.5 458.9 257.2 462.4 255.4 465.2 253.3 467.8 250.5 469.6 247.8 470.8 245.0 471.6 240.2 471.1 236.1 469.0 231.3 465.4 226.5 462.4 223.6 458.9 221.1 450.7 217.5 448.0 215.9 442.3 210.8 435.1 205.3 430.1 199.8 394.2 199.8 393.9 200.5 394.2 202.5 395.2 203.9 397.9 205.7 401.3 206.9 404.7 207.6 408.9 208.0 423.3 207.8 426.0 208.3 428.1 209.2 430.1 210.9 435.2 216.3 442.5 221.0 444.1 222.4 445.2 224.1 446.2 226.5 447.9 234.1 448.0 236.8 447.6 239.6 446.6 242.3 444.9 245.0 442.5 247.8 440.2 249.8 433.6 254.3 428.1 257.1 423.9 258.4 419.8 259.0 407.5 259.9 402.0 260.8 396.6 262.9 392.6 265.6 391.4 267.0 390.7 269.0 390.9 270.4 392.2 272.5 394.4 274.5 396.8 275.9 399.9 277.2 402.7 278.0ZM391.7 243.1L397.9 243.7 403.4 243.3 406.4 242.3 407.5 241.6 408.5 240.2 408.9 238.9 408.8 236.8 408.2 235.4 406.8 233.4 403.4 230.8 399.2 229.4 395.1 229.4 390.7 230.7 385.5 233.4 382.5 236.1 381.9 238.2 382.6 239.6 383.4 240.2 386.2 241.7 391.3 243.0Z" fill="#ffdf66" fill-rule="evenodd"/>
<path d="M407.5 313.0L411.6 313.4 417.8 312.9 432.2 310.0 448.0 307.3 458.4 304.7 467.2 301.7 477.5 298.7 482.6 296.5 486.8 293.7 489.5 291.0 490.6 288.9 490.6 288.2 489.8 287.5 487.1 287.6 482.3 288.9 477.8 291.0 470.6 294.9 465.8 296.5 461.0 296.9 448.0 296.4 440.4 296.8 428.9 298.5 415.7 301.6 409.5 304.1 407.3 305.4 405.1 307.4 404.0 309.5 404.2 310.9 405.4 312.1 407.3 312.9ZM500.8 280.7L503.5 280.0 507.0 278.2 509.9 275.9 513.0 272.5 516.6 267.4 520.0 261.5 522.0 256.7 523.2 252.6 524.1 246.4 524.3 240.2 523.9 234.8 522.2 223.8 521.4 221.1 520.0 218.6 517.9 217.0 515.9 216.6 511.1 217.5 507.7 219.4 505.3 222.4 503.5 227.0 502.6 232.0 501.9 238.2 501.3 259.4 499.1 270.4 498.5 275.2 498.6 279.3 499.4 280.4 500.1 280.7ZM407.5 273.9L410.9 274.1 414.3 273.8 418.5 272.8 422.6 271.4 434.9 265.9 448.0 259.4 460.3 255.0 463.7 252.9 466.3 250.5 468.6 247.1 469.9 243.0 469.8 238.9 468.8 235.4 466.0 230.7 461.7 225.9 458.3 223.5 454.1 222.1 451.4 222.2 450.0 222.9 449.5 223.8 449.0 226.5 449.8 234.8 449.4 238.9 447.5 243.7 444.5 247.8 441.8 250.4 438.4 252.9 430.1 257.8 426.7 259.6 421.9 261.0 408.9 262.8 406.1 263.6 403.4 264.9 401.7 266.3 400.7 267.7 400.5 269.0 400.9 270.4 403.1 272.5 407.2 273.8ZM336.8 252.1L338.2 252.4 340.2 252.0 343.7 249.7 347.1 245.3 348.9 240.9 349.0 237.5 347.6 233.4 344.8 229.3 343.0 227.6 341.6 226.7 340.2 226.2 338.2 226.1 336.1 226.8 334.8 227.8 333.4 229.2 332.1 231.3 330.7 235.4 330.5 240.2 331.4 245.0 333.4 249.2 334.8 250.7 336.4 251.9ZM408.9 204.0L413.7 204.0 417.8 203.1 419.5 201.9 419.6 201.2 419.2 200.5 418.4 199.8 404.5 199.8 403.7 201.2 404.0 202.1 405.7 203.2 408.2 203.9Z" fill="#ffc23e" fill-rule="evenodd"/>
<path d="M427.4 264.4L430.1 264.4 433.6 263.6 437.2 262.2 447.3 257.1 459.6 253.8 463.1 251.9 465.8 249.2 467.4 246.4 468.3 243.7 468.4 240.2 467.7 237.5 466.0 234.1 463.4 230.7 460.3 227.7 457.6 226.0 455.5 225.5 454.1 225.6 452.8 226.4 452.2 227.2 451.7 229.3 451.6 235.4 450.9 239.6 449.3 243.7 446.6 248.0 442.5 252.1 430.5 260.1 427.5 262.9 426.9 263.6 426.9 264.2ZM509.7 260.9L510.4 261.1 511.8 260.8 515.2 258.0 517.9 254.0 519.4 249.8 520.0 245.7 519.8 240.9 518.6 236.7 516.6 233.1 515.2 232.0 513.8 231.6 511.8 231.9 510.4 232.6 509.0 233.9 508.0 235.4 506.5 239.6 505.8 244.4 506.1 249.8 507.7 256.5 508.7 259.4 509.6 260.8Z" fill="#ff8c00" fill-rule="evenodd"/>
<path d="M448.6 253.3L455.5 253.2 460.3 251.9 463.7 249.6 465.2 247.8 466.2 245.7 466.8 243.7 466.8 240.9 466.4 238.9 465.5 236.8 463.7 234.3 461.7 232.1 459.6 230.5 457.6 229.6 456.2 229.6 455.5 229.9 454.5 231.3 452.4 240.2 447.5 251.2 447.4 252.6 448.5 253.3Z" fill="#f55a05" fill-rule="evenodd"/>
<path d="M453.4 250.8L456.9 251.1 460.3 250.2 462.7 248.5 464.6 245.7 465.2 243.0 464.7 239.6 463.1 236.8 460.3 234.6 458.9 234.2 457.6 234.5 456.6 235.4 455.5 237.4 451.9 247.1 451.9 249.2 453.0 250.5Z" fill="#d23c08" fill-rule="evenodd"/>
<path d="M456.9 248.6L458.9 248.5 460.6 247.8 462.0 246.4 463.1 244.4 463.2 242.3 462.8 240.9 461.7 239.2 460.3 238.4 458.9 238.4 457.6 239.3 455.5 242.9 454.8 246.4 455.4 247.8 456.4 248.5Z" fill="#a02314" fill-rule="evenodd"/>
<path d="M448.6 323.2L472.3 323.2 473.0 322.5 473.2 321.1 471.7 319.8 467.9 318.7 463.1 318.4 457.6 318.8 452.4 319.8 449.2 321.1 448.1 322.5 448.3 323.2ZM345.7 321.9L351.2 322.4 357.4 322.0 362.9 320.9 367.7 319.0 372.5 316.2 377.3 312.4 382.4 307.4 387.0 301.9 389.8 297.8 391.0 295.1 391.4 292.4 390.8 290.3 389.0 288.1 385.5 285.9 380.7 283.9 375.9 282.7 369.7 282.1 362.9 282.1 356.7 282.6 351.2 283.9 347.1 285.5 343.0 288.0 338.9 291.5 335.1 295.8 331.8 300.6 329.5 305.4 328.6 309.5 329.3 312.8 331.3 315.7 334.8 318.2 339.6 320.4 345.5 321.8ZM506.3 307.6L508.3 307.8 510.7 307.4 512.5 306.6 513.8 305.3 514.5 303.3 514.3 301.9 513.1 300.5 511.1 299.4 509.0 299.1 506.3 299.6 504.4 300.6 503.0 301.9 502.3 304.0 502.7 305.4 504.1 306.7 505.7 307.4ZM439.0 284.8L448.0 284.5 455.5 283.7 461.0 282.4 465.8 280.5 472.0 276.8 478.1 272.0 485.0 265.6 488.8 260.8 490.6 257.4 492.2 252.6 493.3 247.8 493.7 243.0 493.8 225.9 492.9 214.9 492.8 206.7 492.0 202.5 490.7 199.8 461.4 199.8 460.5 201.2 459.4 203.2 458.5 206.0 458.4 208.7 458.9 210.8 460.9 214.2 469.4 223.1 472.7 227.9 474.4 232.0 475.3 235.4 475.5 238.9 474.9 242.3 473.8 245.7 471.9 249.2 469.4 252.6 466.5 255.4 461.7 258.9 452.3 264.2 441.5 271.1 436.8 274.5 433.3 278.0 431.7 280.7 431.6 282.1 431.9 282.8 432.9 283.6 434.2 284.2 438.5 284.8ZM293.6 278.0L297.0 278.3 299.8 277.6 302.8 275.9 306.0 273.2 309.0 269.7 311.7 265.6 313.5 261.5 314.3 257.4 314.5 253.3 314.2 246.4 312.0 223.8 311.8 214.2 311.3 210.1 310.1 206.7 308.0 203.6 305.2 201.3 302.0 199.8 294.3 199.8 292.9 200.3 292.9 277.8 293.5 278.0ZM538.5 277.3L539.9 277.8 539.9 200.3 537.4 201.9 535.8 203.6 534.9 205.3 534.2 208.0 534.1 211.5 535.3 221.7 535.5 227.9 532.7 266.3 532.8 270.4 533.7 273.7 535.8 275.9 538.4 277.3ZM367.7 258.8L375.9 258.9 383.5 258.2 389.0 257.0 397.9 254.2 401.3 253.5 414.3 255.2 419.8 255.3 423.9 255.0 427.4 254.3 430.8 253.0 434.2 251.2 438.0 248.5 441.8 244.4 443.1 242.3 444.2 239.6 444.5 237.5 444.3 234.8 443.6 232.0 442.2 229.3 439.7 226.6 437.0 224.9 429.5 221.7 422.6 218.1 417.8 216.8 414.3 216.8 411.2 217.6 409.3 219.0 408.7 220.4 408.9 221.7 409.5 223.1 413.0 228.4 414.9 232.0 416.4 236.8 416.4 239.6 415.7 242.6 414.5 245.0 412.7 247.1 410.9 248.4 408.2 249.6 404.0 251.0 401.3 251.5 399.2 251.4 388.3 249.4 381.4 248.8 373.9 248.9 367.7 249.9 364.9 250.9 362.9 252.0 360.9 254.0 360.5 255.3 361.0 256.7 362.2 257.6 364.3 258.3 367.4 258.8Z" fill="#82cde6" fill-rule="evenodd"/>
<path d="M352.6 315.0L356.7 315.1 360.8 314.7 364.9 313.7 368.4 312.3 371.8 310.5 375.2 308.0 378.0 305.4 380.6 301.9 381.9 299.2 382.3 297.1 382.1 295.1 381.0 293.0 379.3 291.5 376.6 290.0 373.3 288.9 369.7 288.3 365.6 288.1 360.8 288.4 356.7 289.1 352.6 290.3 349.2 291.8 345.7 293.9 342.7 296.5 340.6 299.2 339.2 301.9 338.7 304.7 339.2 307.4 340.5 309.5 342.7 311.5 345.0 312.9 348.5 314.2 352.5 315.0ZM441.8 280.8L447.3 280.9 455.5 279.8 461.0 278.3 466.5 275.8 472.0 272.1 478.6 266.3 485.7 259.1 487.8 256.4 489.1 253.9 490.8 249.2 491.5 244.4 491.8 227.2 491.3 222.4 487.8 209.4 486.4 205.9 485.0 203.9 483.0 202.0 480.9 200.8 478.8 200.1 476.8 199.8 474.0 200.0 472.0 200.5 469.9 201.6 467.9 203.2 466.8 204.6 465.8 206.7 465.3 208.7 465.5 211.5 466.3 213.5 467.5 215.6 472.0 220.7 473.6 223.1 475.4 227.0 477.1 232.0 477.8 235.4 477.8 238.9 477.0 242.3 475.7 245.7 472.3 251.2 467.1 256.7 463.1 259.8 445.9 271.1 441.0 275.2 439.5 277.3 439.1 278.6 439.9 280.0 441.5 280.7ZM296.3 269.1L298.4 269.1 300.3 268.4 302.1 267.0 303.7 264.9 305.1 262.2 306.1 259.4 307.2 252.6 307.1 244.4 305.6 236.8 304.3 233.4 302.5 230.0 300.4 227.4 299.1 226.4 297.7 226.2 297.0 226.5 295.6 227.7 294.3 230.0 292.9 233.7 292.9 266.6 294.3 268.0 296.2 269.0ZM539.9 266.6L539.9 233.7 538.2 243.0 537.4 254.0 538.0 261.5 538.7 264.2 539.7 266.3ZM421.2 253.3L425.3 253.1 428.8 252.4 432.9 250.6 436.0 248.5 439.0 245.7 441.0 243.0 442.2 240.2 442.7 236.8 442.2 234.1 441.1 231.7 439.7 230.0 437.7 228.3 434.2 226.9 428.1 225.3 422.6 223.6 419.8 223.1 417.8 223.6 417.1 224.2 416.7 225.2 416.8 227.9 418.6 234.8 418.7 238.2 417.6 244.4 415.0 250.5 415.1 251.2 415.6 251.9 416.4 252.4 420.6 253.3Z" fill="#3cb4dc" fill-rule="evenodd"/>
<path d="M356.7 309.5L361.5 309.3 366.3 307.8 370.4 305.4 373.2 302.3 373.9 300.6 374.1 299.2 373.8 297.8 372.9 296.5 371.8 295.5 369.7 294.5 366.1 293.7 360.8 293.8 355.9 295.1 353.3 296.3 351.2 297.7 348.7 300.6 347.9 303.3 348.2 304.7 349.2 306.3 351.9 308.3 356.5 309.5ZM448.0 276.8L452.1 277.1 458.3 276.0 463.1 274.3 467.9 271.7 473.8 267.0 482.4 258.1 485.7 254.3 487.8 250.6 488.7 247.8 489.2 244.4 488.9 235.4 489.5 227.9 489.1 224.2 487.8 220.5 483.9 214.9 481.3 209.4 479.6 207.3 478.1 206.5 476.1 206.2 474.0 206.7 473.2 207.3 472.2 208.7 471.9 210.8 472.7 213.2 476.0 217.6 477.0 219.7 480.6 234.1 480.7 238.2 479.0 243.7 475.6 249.8 471.6 254.6 465.8 259.8 449.6 271.8 447.2 274.5 446.9 275.9 447.5 276.6ZM423.3 251.2L425.3 251.3 428.1 251.0 432.9 249.1 437.2 245.7 438.8 243.7 440.0 241.6 440.6 239.6 440.8 237.5 440.4 235.4 439.5 233.4 438.4 231.9 436.6 230.7 434.9 229.9 432.2 229.2 424.6 228.7 422.8 229.3 421.7 230.7 419.5 247.8 419.8 249.2 420.5 250.1 423.2 251.2Z" fill="#1e96d2" fill-rule="evenodd"/>
<path d="M457.6 271.8L460.3 271.8 464.4 270.3 468.5 267.7 472.4 264.2 483.6 250.3 484.5 248.5 485.0 246.4 484.7 245.0 484.3 244.5 483.6 244.5 483.0 245.0 478.6 251.2 475.5 254.6 458.8 268.4 457.2 270.4 457.0 271.1 457.5 271.8ZM425.3 249.2L428.8 249.1 432.2 247.8 435.6 245.3 437.8 242.3 438.8 238.9 438.4 236.0 437.7 234.7 436.4 233.4 433.6 232.0 430.1 231.6 427.4 231.9 425.3 233.0 423.9 234.8 422.4 240.2 422.0 245.0 422.2 246.4 422.9 247.8 423.9 248.7 425.2 249.2ZM484.3 228.9L485.0 228.7 485.5 227.2 484.8 225.2 484.3 224.8 483.6 224.9 483.2 225.9 483.3 227.2 484.0 228.6Z" fill="#1467b4" fill-rule="evenodd"/>
<path d="M428.1 247.1L430.8 246.6 432.9 245.5 434.9 243.5 436.3 240.9 436.6 238.2 435.7 236.1 434.0 234.8 431.5 234.1 428.8 234.5 427.1 235.4 425.9 236.8 424.7 239.6 424.2 242.3 424.6 245.0 425.7 246.4 427.5 247.1Z" fill="#0b3c8c" fill-rule="evenodd"/>
<path d="M428.1 243.9L429.4 244.3 430.8 244.0 432.9 242.3 433.7 240.9 433.8 239.6 432.9 237.8 431.5 237.2 430.1 237.3 428.1 238.7 427.3 240.2 427.0 241.6 427.3 243.0 427.8 243.7Z" fill="#0a2359" fill-rule="evenodd"/></g></g>
<rect x="292.9" y="199.8" width="247.0" height="123.4" fill="none" stroke="#1a1a1a" stroke-width="1"/>
<path d="M313.5 199.8v4.5M313.5 323.2v-4.5M334.1 199.8v4.5M334.1 323.2v-4.5M354.6 199.8v4.5M354.6 323.2v-4.5M375.2 199.8v4.5M375.2 323.2v-4.5M395.8 199.8v4.5M395.8 323.2v-4.5M416.4 199.8v4.5M416.4 323.2v-4.5M437.0 199.8v4.5M437.0 323.2v-4.5M457.6 199.8v4.5M457.6 323.2v-4.5M478.1 199.8v4.5M478.1 323.2v-4.5M498.7 199.8v4.5M498.7 323.2v-4.5M519.3 199.8v4.5M519.3 323.2v-4.5M292.9 220.4h4.5M539.9 220.4h-4.5M292.9 240.9h4.5M539.9 240.9h-4.5M292.9 261.5h4.5M539.9 261.5h-4.5M292.9 282.1h4.5M539.9 282.1h-4.5M292.9 302.6h4.5M539.9 302.6h-4.5" stroke="#1a1a1a" stroke-width="1" fill="none"/>
<g class="ax"></g>
<g clip-path="url(#ce)"><g filter="url(#sf)"><rect x="29.9" y="344.5" width="247.0" height="123.4" fill="#bde7f4"/>
<path d="M119.8 467.5L120.1 467.9 162.9 467.9 172.7 463.8 180.2 461.4 188.4 459.7 205.5 456.8 211.7 455.3 219.3 452.5 226.1 448.9 236.4 441.0 247.4 434.0 253.6 429.4 257.0 426.2 259.4 423.3 261.5 419.9 263.1 416.5 264.5 412.1 265.9 406.5 267.9 393.2 268.8 378.8 268.3 368.5 267.3 363.4 265.6 357.5 263.8 352.7 261.6 348.6 259.7 346.3 257.8 344.5 241.2 344.5 239.2 346.5 237.1 349.4 234.5 355.5 233.3 361.0 232.8 389.1 232.2 394.5 231.3 400.0 229.6 407.0 227.5 413.0 225.3 417.2 222.3 420.6 218.3 423.3 206.7 429.5 202.1 431.4 197.3 432.6 190.5 433.4 168.5 434.0 152.0 433.2 149.3 433.7 147.2 434.5 141.1 438.1 135.6 442.2 130.8 446.6 125.6 452.1 122.0 456.9 119.7 461.0 118.8 464.5 119.0 465.8 119.6 467.2ZM226.1 467.9L267.7 467.9 270.7 464.2 272.8 463.4 276.9 462.6 276.9 429.5 274.8 429.4 271.4 430.0 268.7 432.0 266.3 435.7 264.8 439.8 264.0 443.9 263.9 448.7 264.5 453.2 266.7 459.7 266.7 461.0 266.0 461.7 264.5 462.1 261.8 462.3 242.6 461.6 234.4 462.0 230.9 462.9 228.9 463.9 226.8 465.8 225.5 467.9ZM30.6 462.5L38.1 460.9 43.6 459.2 48.4 456.9 52.5 454.2 56.0 451.1 59.4 447.3 75.9 426.5 80.0 422.8 84.8 420.1 88.9 418.9 93.7 418.4 113.6 419.7 120.5 421.4 132.8 426.7 139.7 429.0 146.5 430.2 150.7 429.9 152.7 429.2 156.8 426.9 172.4 416.5 181.5 411.0 187.6 407.6 196.6 403.2 200.1 401.2 202.8 399.1 205.5 396.3 207.8 393.2 209.1 390.4 210.4 385.6 210.3 381.5 209.0 377.0 206.6 372.6 203.8 369.2 200.1 365.6 190.6 358.9 187.3 356.2 182.3 350.7 178.0 344.5 119.4 344.5 119.2 346.6 119.6 347.9 121.7 350.7 125.3 353.1 130.1 355.1 134.2 356.1 139.0 356.7 152.7 356.4 156.8 356.6 160.3 357.4 163.0 358.8 169.6 363.7 177.4 368.3 180.2 371.1 182.0 374.7 183.1 378.8 183.2 382.2 182.4 385.6 181.0 388.4 179.5 390.4 175.4 394.4 169.2 398.4 163.0 400.9 156.8 401.8 142.4 402.0 137.6 402.5 133.3 403.5 121.2 407.2 114.3 408.3 100.6 409.0 95.1 408.4 92.3 407.1 90.7 405.5 89.7 403.5 89.8 400.7 91.0 398.0 93.7 394.4 96.5 391.6 99.2 389.7 102.6 388.5 106.7 388.3 132.1 391.7 137.6 392.0 142.4 391.5 146.5 390.2 148.2 389.1 149.3 387.7 150.3 385.6 150.7 383.6 150.5 381.5 150.0 379.6 148.9 377.4 147.2 375.0 143.1 371.2 138.3 368.5 133.5 367.4 129.4 367.7 124.6 369.0 120.5 370.8 112.0 375.4 108.1 376.9 104.7 377.6 101.3 377.2 99.2 376.1 97.1 373.9 91.6 362.3 89.2 358.9 86.8 356.3 84.1 354.1 80.7 352.4 77.2 351.6 73.8 351.7 71.1 352.4 69.0 353.4 66.9 354.7 64.7 356.8 61.3 361.6 59.7 365.1 58.6 368.5 57.2 375.4 56.9 382.9 57.3 389.7 59.2 402.8 58.8 405.5 57.6 408.3 55.2 411.7 51.0 416.5 45.0 422.6 40.9 426.1 38.1 428.0 35.4 429.1 33.3 429.5 29.9 429.5 29.9 462.6Z" fill="#fff5b4" fill-rule="evenodd"/>
<path d="M136.9 463.9L140.4 464.3 144.5 464.4 154.1 463.3 174.0 458.3 198.7 453.1 213.1 448.9 220.6 445.7 227.1 441.8 246.7 426.9 251.5 422.7 254.9 418.9 257.7 415.1 260.0 411.0 261.8 406.6 263.3 401.4 264.4 395.2 265.1 388.4 265.3 381.5 265.1 376.0 264.5 370.6 263.4 365.8 261.8 361.5 259.7 357.8 257.3 354.8 254.3 352.6 251.5 351.6 249.5 351.4 247.4 351.6 245.3 352.3 243.3 353.4 239.8 356.9 237.4 361.6 236.5 365.1 236.0 369.2 235.2 391.1 233.6 406.9 232.3 413.2 230.8 418.5 229.5 421.3 227.5 423.9 223.4 426.7 209.0 433.7 204.9 435.4 201.4 436.4 195.9 437.2 178.1 437.7 165.1 438.9 152.7 440.9 144.5 443.6 139.8 446.0 135.9 448.7 132.5 452.1 130.4 455.6 129.8 458.3 130.1 459.7 130.8 460.9 132.8 462.5 136.5 463.8ZM36.1 448.0L40.9 448.3 45.7 447.4 49.8 445.6 54.6 442.1 58.7 438.3 62.1 434.5 65.6 430.1 72.4 420.1 79.0 413.1 80.9 410.3 83.1 402.1 84.5 399.3 88.6 393.2 91.0 389.1 92.4 385.6 92.6 382.9 92.2 380.8 90.8 377.4 87.5 370.6 85.5 367.3 83.4 365.0 81.4 363.4 79.3 362.3 77.2 361.8 74.5 361.8 72.4 362.3 70.4 363.4 68.3 365.0 66.5 367.1 64.9 369.8 62.9 375.4 61.9 381.5 62.2 387.7 63.1 392.5 65.9 401.4 66.3 404.1 66.0 406.9 64.7 409.6 61.8 413.1 50.6 423.3 38.8 436.5 37.4 437.5 35.4 438.4 29.9 438.9 29.9 446.5 32.0 447.3 36.0 448.0ZM276.2 446.0L276.9 446.5 276.9 438.9 275.3 439.8 274.4 441.8 274.8 444.3 276.1 446.0ZM140.4 422.8L145.2 423.2 150.7 422.7 156.1 421.2 162.3 418.6 185.5 406.2 195.9 401.9 199.4 400.1 202.3 398.0 204.9 395.3 206.7 392.5 207.9 389.7 208.7 384.9 208.1 380.8 206.0 376.0 202.4 371.2 199.4 368.2 195.9 365.7 187.7 362.2 185.0 360.5 179.3 355.5 172.2 350.0 167.1 344.5 131.2 344.5 130.9 345.2 131.2 347.2 132.2 348.6 134.9 350.4 138.3 351.6 141.7 352.3 145.9 352.7 160.3 352.5 163.0 353.1 165.1 354.0 167.1 355.7 172.1 361.0 178.8 365.3 181.0 367.1 182.2 368.9 183.2 371.2 184.9 378.8 185.0 381.5 184.6 384.3 183.5 387.0 181.8 389.7 179.5 392.5 177.2 394.5 170.6 399.0 165.1 401.8 160.9 403.1 156.8 403.7 144.5 404.6 139.0 405.5 133.6 407.6 129.6 410.3 128.4 411.7 127.7 413.7 127.9 415.1 129.2 417.2 131.4 419.2 133.8 420.6 136.9 421.9 139.7 422.7ZM128.7 387.8L134.9 388.4 140.4 388.0 143.4 387.0 144.5 386.3 145.5 384.9 145.9 383.6 145.8 381.5 145.2 380.1 143.8 378.1 140.4 375.5 136.2 374.1 132.1 374.1 127.7 375.4 122.5 378.1 119.5 380.8 118.9 382.9 119.6 384.3 120.4 384.9 123.2 386.4 128.3 387.7Z" fill="#ffdf66" fill-rule="evenodd"/>
<path d="M144.5 457.7L148.6 458.1 154.8 457.6 169.2 454.7 185.0 452.0 195.4 449.4 204.2 446.4 214.5 443.4 219.6 441.2 223.8 438.4 226.5 435.7 227.6 433.6 227.6 432.9 226.8 432.2 224.1 432.3 219.3 433.6 214.8 435.7 207.6 439.6 202.8 441.2 198.0 441.6 185.0 441.1 177.4 441.5 165.9 443.2 152.7 446.3 146.5 448.8 144.3 450.1 142.1 452.1 141.0 454.2 141.2 455.6 142.4 456.8 144.3 457.6ZM237.8 425.4L240.5 424.7 244.0 422.9 246.9 420.6 250.0 417.2 253.6 412.1 257.0 406.2 259.0 401.4 260.2 397.3 261.1 391.1 261.3 384.9 260.9 379.5 259.2 368.5 258.4 365.8 257.0 363.3 254.9 361.7 252.9 361.3 248.1 362.2 244.7 364.1 242.3 367.1 240.5 371.7 239.6 376.7 238.9 382.9 238.3 404.1 236.1 415.1 235.5 419.9 235.6 424.0 236.4 425.1 237.1 425.4ZM144.5 418.6L147.9 418.8 151.3 418.5 155.5 417.5 159.6 416.1 171.9 410.6 185.0 404.1 197.3 399.8 200.7 397.7 203.3 395.2 205.6 391.8 206.9 387.7 206.9 383.8 205.9 380.1 203.0 375.4 198.7 370.6 195.3 368.1 191.1 366.8 189.1 366.7 187.7 367.0 186.4 368.5 186.0 371.2 186.8 379.5 186.4 383.6 184.5 388.4 181.5 392.4 178.8 395.0 175.4 397.5 167.1 402.5 163.7 404.3 158.9 405.7 145.9 407.5 143.1 408.3 140.4 409.6 138.7 411.0 137.7 412.4 137.5 413.7 137.9 415.1 140.1 417.2 144.2 418.5ZM73.8 396.8L75.2 397.1 77.2 396.7 80.7 394.4 84.1 390.0 85.9 385.6 86.0 382.2 84.6 378.1 81.8 374.0 80.0 372.3 78.6 371.4 77.2 370.9 75.2 370.8 73.1 371.5 71.8 372.5 70.4 373.9 69.1 376.0 67.7 380.1 67.5 384.9 68.4 389.7 70.4 393.9 71.8 395.4 73.4 396.6ZM145.9 348.7L150.7 348.7 154.8 347.8 156.5 346.6 156.6 345.9 156.2 345.2 155.4 344.5 141.5 344.5 140.7 345.9 141.1 346.8 142.7 347.9 145.2 348.6Z" fill="#ffc23e" fill-rule="evenodd"/>
<path d="M164.4 409.2L167.1 409.2 170.6 408.4 174.3 406.9 184.3 401.9 196.6 398.6 200.1 396.6 202.8 394.0 204.5 391.1 205.3 388.4 205.4 384.9 204.8 382.2 203.1 378.8 200.7 375.7 197.3 372.3 194.6 370.6 192.5 370.1 191.1 370.2 189.8 371.0 189.1 371.9 188.6 374.7 188.5 380.8 187.9 384.3 185.9 389.1 183.1 393.2 178.8 397.2 171.1 402.1 167.4 404.8 164.4 407.6 163.7 408.9ZM246.7 405.6L247.4 405.8 248.8 405.5 252.2 402.7 254.9 398.7 256.4 394.5 257.0 390.4 256.8 385.6 255.6 381.4 253.6 377.8 252.2 376.7 250.8 376.3 248.8 376.6 247.4 377.3 246.0 378.6 245.0 380.1 243.5 384.3 242.8 389.1 243.1 394.5 244.7 401.2 245.7 404.1 246.6 405.5Z" fill="#ff8c00" fill-rule="evenodd"/>
<path d="M185.0 398.0L191.1 398.1 193.9 397.8 196.6 397.0 198.7 396.0 200.7 394.3 202.2 392.5 203.3 390.4 203.8 388.4 203.9 385.6 203.5 383.6 202.5 381.5 200.7 378.9 198.7 376.7 196.6 375.1 194.6 374.1 193.2 374.1 192.5 374.4 191.4 376.0 189.4 384.9 184.2 396.6 184.1 397.3 184.8 398.0Z" fill="#f55a05" fill-rule="evenodd"/>
<path d="M192.5 395.9L195.9 395.5 198.7 394.1 200.9 391.8 202.1 389.1 202.2 385.6 201.1 382.9 198.7 380.1 197.3 379.2 195.9 378.8 194.6 379.0 193.2 380.5 190.5 387.0 188.8 391.8 188.7 393.2 189.1 394.7 190.5 395.6 192.0 395.9Z" fill="#d23c08" fill-rule="evenodd"/>
<path d="M193.2 393.3L194.6 393.5 196.6 393.1 198.6 391.8 199.6 390.4 200.3 388.4 200.2 386.3 199.4 384.5 198.0 383.2 196.6 382.8 195.3 383.2 193.2 385.8 192.1 388.4 191.7 390.4 191.8 391.8 193.0 393.2Z" fill="#a02314" fill-rule="evenodd"/>
<path d="M185.6 467.9L209.3 467.9 210.0 467.2 210.2 465.8 208.7 464.5 204.9 463.4 200.1 463.1 194.6 463.5 189.4 464.5 186.2 465.8 185.1 467.2 185.3 467.9ZM82.7 466.6L88.2 467.1 94.4 466.7 99.9 465.6 104.7 463.7 109.5 460.9 114.3 457.1 119.4 452.1 124.0 446.6 126.8 442.5 128.0 439.8 128.4 437.1 127.8 435.0 126.0 432.8 122.5 430.6 117.7 428.6 112.9 427.4 106.7 426.8 99.9 426.8 93.7 427.3 88.2 428.6 84.1 430.2 80.0 432.7 75.9 436.2 72.1 440.5 68.8 445.3 66.5 450.1 65.6 454.2 66.3 457.5 68.3 460.4 71.8 462.9 76.6 465.1 82.5 466.5ZM243.3 452.3L245.3 452.5 247.7 452.1 249.5 451.3 250.8 450.0 251.5 448.0 251.3 446.6 250.1 445.2 248.1 444.1 246.0 443.8 243.3 444.3 241.4 445.3 240.0 446.6 239.3 448.7 239.7 450.1 241.1 451.4 242.7 452.1ZM176.0 429.5L185.0 429.2 192.5 428.4 198.0 427.1 202.8 425.2 209.0 421.5 215.2 416.7 222.0 410.3 225.8 405.5 227.6 402.1 229.2 397.3 230.3 392.5 230.7 387.7 230.8 370.6 229.9 359.6 229.8 351.4 229.0 347.2 227.7 344.5 198.4 344.5 197.5 345.9 196.4 347.9 195.5 350.7 195.4 353.4 195.9 355.5 197.9 358.9 206.4 367.8 209.7 372.6 211.5 376.7 212.3 380.1 212.5 383.6 211.9 387.0 210.8 390.4 209.0 393.9 206.4 397.3 203.5 400.1 198.7 403.6 189.4 408.9 178.5 415.8 173.8 419.2 170.3 422.7 168.7 425.4 168.6 426.8 168.9 427.5 169.9 428.3 171.2 428.9 175.5 429.5ZM30.6 422.7L34.0 423.0 36.8 422.3 39.8 420.6 43.0 417.9 46.0 414.4 48.7 410.3 50.5 406.2 51.3 402.1 51.5 398.0 51.2 391.1 49.0 368.5 48.8 358.9 48.3 354.8 47.1 351.4 45.0 348.3 42.2 346.0 39.0 344.5 31.3 344.5 29.9 345.0 29.9 422.5 30.5 422.7ZM275.5 422.0L276.9 422.5 276.9 345.0 274.4 346.6 272.8 348.3 271.9 350.0 271.2 352.7 271.1 356.2 272.3 366.4 272.5 372.6 269.7 411.0 269.8 415.1 270.7 418.4 272.8 420.6 275.4 422.0ZM104.7 403.5L112.9 403.6 120.5 402.9 126.0 401.7 134.9 398.9 138.3 398.2 151.3 399.9 156.8 400.0 160.9 399.7 164.4 399.0 167.8 397.7 171.2 395.8 175.0 393.2 178.8 389.1 180.1 387.0 181.2 384.3 181.5 382.2 181.3 379.5 180.6 376.7 179.2 374.0 176.7 371.3 174.0 369.6 166.5 366.4 159.6 362.8 154.8 361.5 151.3 361.5 148.2 362.3 146.3 363.7 145.7 365.1 145.9 366.4 146.5 367.8 150.0 373.1 151.9 376.7 153.4 381.5 153.4 384.3 152.7 387.3 151.5 389.7 149.7 391.8 147.9 393.1 145.2 394.3 141.1 395.7 138.3 396.2 136.2 396.1 125.3 394.1 118.4 393.5 110.9 393.6 104.7 394.6 101.9 395.6 99.9 396.7 97.9 398.7 97.5 400.0 98.0 401.4 99.2 402.3 101.3 403.0 104.4 403.5Z" fill="#82cde6" fill-rule="evenodd"/>
<path d="M89.6 459.7L93.7 459.8 97.8 459.4 101.9 458.4 105.4 457.0 108.8 455.2 112.2 452.7 115.0 450.1 117.6 446.6 118.9 443.9 119.3 441.8 119.1 439.8 118.0 437.7 116.3 436.2 113.6 434.7 110.3 433.6 106.7 433.0 102.6 432.8 97.8 433.1 93.7 433.8 89.6 435.0 86.2 436.5 82.7 438.6 79.7 441.2 77.6 443.9 76.2 446.6 75.7 449.4 76.2 452.1 77.5 454.2 79.7 456.2 82.0 457.6 85.5 458.9 89.5 459.7ZM178.8 425.5L184.3 425.6 192.5 424.5 198.0 423.0 203.5 420.5 209.0 416.8 215.6 411.0 222.7 403.8 224.8 401.1 226.1 398.6 227.8 393.9 228.5 389.1 228.8 371.9 228.3 367.1 224.8 354.1 223.4 350.6 222.0 348.6 220.0 346.7 217.9 345.5 215.8 344.8 213.8 344.5 211.0 344.7 209.0 345.2 206.9 346.3 204.9 347.9 203.8 349.3 202.8 351.4 202.3 353.4 202.5 356.2 203.3 358.2 204.6 360.3 209.0 365.3 210.7 367.8 212.4 371.6 214.1 376.7 214.8 380.1 214.8 383.6 214.0 387.0 212.7 390.4 209.3 395.9 204.1 401.4 200.1 404.5 182.9 415.8 178.0 419.9 176.5 422.0 176.1 423.3 176.9 424.7 178.5 425.4ZM33.3 413.8L35.4 413.8 37.3 413.1 39.1 411.7 40.7 409.6 42.1 406.9 43.1 404.1 44.2 397.3 44.1 389.1 42.6 381.5 41.3 378.1 39.5 374.7 37.4 372.1 36.1 371.1 34.7 370.9 34.0 371.2 32.6 372.4 31.3 374.7 29.9 378.4 29.9 411.3 31.3 412.7 33.2 413.7ZM276.9 411.3L276.9 378.4 275.2 387.7 274.4 398.7 275.0 406.2 275.7 408.9 276.7 411.0ZM158.2 398.0L162.3 397.8 165.8 397.1 169.9 395.3 173.0 393.2 176.0 390.4 178.0 387.7 179.2 384.9 179.7 381.5 179.2 378.8 178.1 376.5 176.7 374.7 174.7 373.1 171.2 371.6 165.1 370.0 159.6 368.3 156.8 367.8 154.8 368.3 154.1 368.9 153.7 369.9 153.8 372.6 155.6 379.5 155.7 382.9 154.6 389.1 152.0 395.2 152.1 395.9 152.6 396.6 153.4 397.1 157.6 398.0Z" fill="#3cb4dc" fill-rule="evenodd"/>
<path d="M93.7 454.2L98.5 454.0 103.3 452.5 107.4 450.1 110.2 447.0 110.9 445.3 111.1 443.9 110.8 442.5 109.9 441.2 108.8 440.2 106.7 439.2 103.1 438.4 97.8 438.5 92.9 439.8 90.3 441.0 88.2 442.4 85.7 445.3 84.9 448.0 85.2 449.4 86.2 451.0 88.9 453.0 93.5 454.2ZM185.0 421.5L189.1 421.8 195.3 420.7 200.1 419.0 204.9 416.4 210.8 411.7 219.4 402.8 222.7 399.0 224.8 395.3 225.7 392.5 226.2 389.1 225.9 380.8 226.5 372.6 226.1 368.9 224.8 365.2 220.9 359.6 218.3 354.1 216.6 352.0 215.2 351.2 213.1 350.9 211.0 351.4 210.2 352.0 209.2 353.4 208.9 355.5 209.7 357.9 213.0 362.3 214.0 364.4 217.6 378.8 217.7 382.9 216.0 388.4 212.6 394.5 208.6 399.3 202.8 404.5 186.6 416.5 184.2 419.2 183.9 420.6 184.5 421.3ZM160.3 395.9L162.3 396.0 165.1 395.7 169.9 393.8 174.2 390.4 175.8 388.4 177.0 386.3 177.6 384.3 177.8 382.2 177.4 380.1 176.5 378.1 175.4 376.6 173.6 375.4 171.9 374.6 169.2 373.9 161.6 373.4 159.8 374.0 158.7 375.4 156.5 392.5 156.8 393.9 157.5 394.8 160.2 395.9Z" fill="#1e96d2" fill-rule="evenodd"/>
<path d="M194.6 416.5L197.3 416.5 201.4 415.0 205.5 412.4 209.4 408.9 220.6 395.0 221.5 393.2 221.9 391.1 221.7 389.7 221.3 389.2 220.6 389.2 220.0 389.7 215.7 395.9 212.5 399.3 195.8 413.1 194.2 415.1 194.0 415.8 194.6 416.5ZM162.3 393.9L165.8 393.8 169.2 392.5 172.6 390.0 174.8 387.0 175.8 383.6 175.4 380.7 174.7 379.4 173.4 378.1 170.6 376.7 167.1 376.3 164.4 376.6 162.3 377.7 160.9 379.5 159.4 384.9 159.0 389.7 159.2 391.1 159.9 392.5 160.9 393.4 162.2 393.9ZM221.3 373.6L222.0 373.4 222.5 371.9 221.8 369.9 221.3 369.5 220.6 369.6 220.2 370.6 220.3 371.9 221.0 373.3Z" fill="#1467b4" fill-rule="evenodd"/>
<path d="M165.1 391.8L167.8 391.3 169.9 390.2 171.9 388.2 173.3 385.6 173.6 382.9 172.7 380.8 171.0 379.5 168.5 378.8 165.8 379.2 164.1 380.1 162.9 381.5 161.7 384.3 161.2 387.0 161.6 389.7 162.7 391.1 164.5 391.8Z" fill="#0b3c8c" fill-rule="evenodd"/>
<path d="M165.1 388.6L166.4 389.0 167.8 388.7 169.9 387.0 170.7 385.6 170.8 384.3 169.9 382.5 168.5 381.9 167.1 382.0 165.1 383.4 164.3 384.9 164.0 386.3 164.3 387.7 164.8 388.4Z" fill="#0a2359" fill-rule="evenodd"/></g></g>
<rect x="29.9" y="344.5" width="247.0" height="123.4" fill="none" stroke="#1a1a1a" stroke-width="1"/>
<path d="M50.5 344.5v4.5M50.5 467.9v-4.5M71.1 344.5v4.5M71.1 467.9v-4.5M91.7 344.5v4.5M91.7 467.9v-4.5M112.2 344.5v4.5M112.2 467.9v-4.5M132.8 344.5v4.5M132.8 467.9v-4.5M153.4 344.5v4.5M153.4 467.9v-4.5M174.0 344.5v4.5M174.0 467.9v-4.5M194.6 344.5v4.5M194.6 467.9v-4.5M215.2 344.5v4.5M215.2 467.9v-4.5M235.7 344.5v4.5M235.7 467.9v-4.5M256.3 344.5v4.5M256.3 467.9v-4.5M29.9 365.1h4.5M276.9 365.1h-4.5M29.9 385.6h4.5M276.9 385.6h-4.5M29.9 406.2h4.5M276.9 406.2h-4.5M29.9 426.8h4.5M276.9 426.8h-4.5M29.9 447.3h4.5M276.9 447.3h-4.5" stroke="#1a1a1a" stroke-width="1" fill="none"/>
<g class="ax"><text x="29.9" y="475.4" text-anchor="middle">0</text><text x="50.5" y="475.4" text-anchor="middle">30E</text><text x="71.1" y="475.4" text-anchor="middle">60E</text><text x="91.7" y="475.4" text-anchor="middle">90E</text><text x="112.2" y="475.4" text-anchor="middle">120E</text><text x="132.8" y="475.4" text-anchor="middle">150E</text><text x="153.4" y="475.4" text-anchor="middle">180</text><text x="174.0" y="475.4" text-anchor="middle">150W</text><text x="194.6" y="475.4" text-anchor="middle">120W</text><text x="215.2" y="475.4" text-anchor="middle">90W</text><text x="235.7" y="475.4" text-anchor="middle">60W</text><text x="256.3" y="475.4" text-anchor="middle">30W</text><text x="276.9" y="475.4" text-anchor="middle">0</text><text x="25.9" y="347.4" text-anchor="end">90N</text><text x="25.9" y="368.0" text-anchor="end">60N</text><text x="25.9" y="388.5" text-anchor="end">30N</text><text x="25.9" y="409.1" text-anchor="end">0</text><text x="25.9" y="429.7" text-anchor="end">30S</text><text x="25.9" y="450.2" text-anchor="end">60S</text><text x="25.9" y="470.8" text-anchor="end">90S</text></g>
<g clip-path="url(#cf)"><g filter="url(#sf)"><rect x="293.6" y="344.5" width="247.0" height="123.4" fill="#bde7f4"/>
<path d="M383.5 467.7L426.8 467.9 436.5 463.8 443.9 461.5 452.1 459.7 469.2 456.9 475.4 455.4 483.0 452.6 489.8 449.0 500.1 441.1 511.1 434.1 518.0 429.0 521.0 426.1 523.4 423.1 525.5 419.7 527.2 415.8 528.7 411.0 530.1 404.8 531.9 391.1 532.6 376.7 531.9 367.1 530.7 361.6 528.9 356.1 526.9 351.1 525.0 347.9 521.9 344.5 504.5 344.5 502.6 346.6 500.7 349.3 498.1 355.5 497.0 361.0 496.5 389.1 495.9 394.5 494.9 400.0 493.3 406.9 491.2 412.9 489.0 417.2 485.9 420.6 481.9 423.3 470.4 429.5 465.8 431.4 461.0 432.6 454.2 433.4 432.2 434.0 415.7 433.1 413.7 433.4 411.6 434.1 406.1 437.2 399.9 441.6 394.5 446.5 389.9 451.4 385.6 456.9 383.3 461.0 382.5 464.5 382.6 465.8 383.1 467.2ZM489.1 467.9L531.9 467.9 535.2 464.5 536.7 463.8 540.6 462.9 540.6 429.4 538.5 429.3 535.1 429.9 532.6 431.6 530.6 434.3 528.5 439.1 527.6 443.2 527.4 448.0 528.0 452.8 529.8 459.0 529.8 460.4 529.4 461.0 528.1 461.7 524.8 462.1 505.6 461.5 497.4 462.0 494.6 462.8 492.5 463.8 490.5 465.6 489.1 467.9ZM294.3 462.8L301.1 461.3 307.3 459.3 312.1 457.1 316.2 454.3 319.7 451.2 323.1 447.4 339.6 426.7 343.7 422.9 348.5 420.2 352.6 419.0 357.4 418.5 377.3 419.8 384.2 421.5 397.2 427.0 403.4 429.1 410.2 430.4 412.3 430.5 414.4 430.1 417.1 429.0 420.5 427.0 435.1 417.2 443.0 412.4 451.4 407.6 460.3 403.2 463.8 401.2 466.5 399.2 469.2 396.4 471.5 393.2 472.9 390.4 474.1 385.6 474.1 381.5 472.9 377.4 470.4 372.6 467.6 369.2 463.8 365.5 453.6 358.2 450.5 355.5 445.7 350.0 441.9 344.5 382.9 344.5 382.9 347.2 384.5 350.0 388.1 352.7 393.1 354.9 397.2 356.0 402.0 356.7 416.4 356.5 420.5 356.7 424.0 357.5 426.7 358.9 433.1 363.7 441.1 368.4 443.9 371.2 445.6 374.7 446.7 378.8 446.9 382.2 446.1 385.6 444.7 388.4 443.1 390.4 438.8 394.5 432.2 398.7 426.0 401.1 420.5 401.8 406.1 402.0 401.3 402.5 396.9 403.5 384.9 407.1 378.7 408.2 365.0 408.9 361.5 408.8 358.8 408.3 356.0 407.0 354.5 405.5 353.5 403.5 353.6 400.7 354.8 398.0 357.4 394.5 360.2 391.7 362.9 389.8 366.3 388.6 370.4 388.4 395.8 391.8 401.3 392.0 406.1 391.6 410.2 390.2 411.9 389.1 413.0 387.7 414.0 385.6 414.3 383.6 414.2 381.5 413.6 379.5 410.9 375.0 406.8 371.1 402.0 368.4 397.2 367.3 393.1 367.6 388.3 368.9 383.5 371.0 375.4 375.4 371.8 376.8 368.4 377.5 365.0 377.1 362.9 376.0 360.8 373.8 355.4 362.3 353.1 358.9 350.5 356.1 347.1 353.6 343.7 352.0 340.3 351.4 336.8 351.7 334.1 352.6 332.0 353.6 330.0 355.2 327.9 357.2 324.5 362.3 322.2 368.5 320.9 375.4 320.5 382.9 321.0 389.7 322.8 402.8 322.4 405.5 321.2 408.3 318.9 411.7 314.6 416.5 308.7 422.5 304.6 426.0 301.8 427.9 299.1 429.0 297.0 429.4 293.6 429.4 293.6 462.9Z" fill="#fff5b4" fill-rule="evenodd"/>
<path d="M404.8 464.5L411.6 464.3 419.8 463.0 438.0 458.3 464.4 452.6 472.7 450.4 478.9 448.2 485.7 445.1 491.9 441.3 511.1 426.6 517.0 421.3 520.0 417.7 522.8 413.5 524.8 409.2 526.6 404.1 527.8 398.7 528.8 391.8 529.3 384.3 529.2 377.4 528.7 371.9 527.8 367.1 526.2 362.3 524.6 358.9 522.8 356.1 520.0 353.3 517.3 351.7 513.8 350.9 511.8 350.9 509.7 351.4 506.3 353.4 504.2 355.4 502.9 357.2 500.8 361.6 500.0 365.1 499.5 369.2 498.7 391.1 497.2 406.2 496.0 412.4 494.6 417.6 493.3 420.9 491.5 423.3 489.1 425.3 486.6 426.8 471.3 434.2 465.8 436.2 459.6 437.1 440.4 437.7 426.0 439.2 415.0 441.2 410.9 442.4 406.8 444.1 402.0 446.8 397.9 450.2 394.6 454.2 393.3 457.6 393.4 459.0 393.8 460.4 395.9 462.4 399.5 463.8 404.5 464.5ZM299.8 448.8L304.6 448.9 309.4 447.9 313.5 446.0 318.3 442.5 321.7 439.3 325.8 434.8 329.4 430.2 336.1 420.5 343.1 413.1 345.0 410.3 347.0 402.1 348.4 399.3 354.9 389.1 356.3 385.6 356.6 382.9 356.1 380.8 355.0 378.1 351.4 370.6 349.3 367.1 347.1 364.7 345.1 363.1 343.0 362.1 340.9 361.5 338.9 361.5 336.8 361.9 334.8 362.7 332.4 364.4 330.7 366.3 329.1 368.5 327.8 371.2 326.6 374.7 325.5 380.8 325.6 387.0 326.5 392.1 329.4 401.4 329.8 404.1 329.4 406.9 328.1 409.6 325.2 413.1 314.1 423.3 302.5 435.8 300.5 437.2 299.1 437.8 293.6 438.2 293.6 447.4 295.7 448.1 299.3 448.7ZM540.6 447.4L540.6 438.2 539.2 438.7 538.1 439.8 537.6 441.2 537.5 442.5 538.3 445.3 539.2 446.4 540.5 447.3ZM403.4 422.8L408.2 423.3 413.7 422.9 419.2 421.6 425.3 419.0 449.3 406.3 459.6 402.0 463.1 400.2 466.1 398.0 468.6 395.4 470.5 392.5 471.7 389.7 472.5 384.9 472.0 380.8 469.9 376.0 466.4 371.2 463.7 368.5 460.3 365.9 456.9 364.1 451.4 361.8 449.0 360.3 443.2 355.1 436.5 350.0 431.2 344.5 394.6 344.5 394.4 346.6 395.6 348.6 397.9 350.2 401.3 351.5 404.8 352.3 408.9 352.7 423.3 352.7 426.0 353.1 428.8 354.4 435.3 361.0 442.6 365.8 444.9 367.8 445.9 369.5 446.9 371.9 448.5 378.8 448.6 381.5 448.1 384.3 447.1 387.0 445.4 389.7 443.0 392.5 440.4 394.8 432.9 399.7 428.1 402.0 424.0 403.2 408.2 404.5 402.3 405.5 397.0 407.6 393.0 410.3 391.8 411.7 391.2 413.1 391.1 414.4 392.0 416.5 394.0 418.5 396.5 420.2 399.3 421.6 402.8 422.7ZM395.8 388.4L401.3 388.5 405.4 387.9 407.5 387.1 408.5 386.3 409.8 384.3 409.9 382.9 409.5 380.8 408.4 378.8 407.2 377.4 405.4 375.9 403.4 374.8 399.3 373.7 394.5 374.1 389.1 376.0 383.9 379.5 382.7 380.8 382.1 382.2 382.3 383.6 382.8 384.3 385.5 386.1 390.3 387.6 395.7 388.4Z" fill="#ffdf66" fill-rule="evenodd"/>
<path d="M410.9 458.3L414.4 458.3 419.2 457.7 451.4 451.6 457.5 450.1 477.4 443.9 483.8 441.2 487.1 439.1 489.5 437.1 491.3 435.0 492.2 432.9 491.9 431.9 490.5 431.5 486.4 432.2 482.3 433.6 471.3 439.3 466.5 440.9 461.7 441.3 447.3 441.0 439.7 441.5 425.3 443.9 414.6 446.6 410.9 448.1 407.6 450.1 405.4 452.0 404.5 453.5 404.3 455.6 405.4 456.9 407.5 457.8 410.4 458.3ZM500.8 426.1L504.2 425.2 507.7 423.3 511.1 420.6 513.8 417.7 517.3 413.1 520.7 407.3 522.8 402.7 524.2 398.0 525.3 391.1 525.5 384.3 525.0 378.1 523.4 368.5 522.3 365.1 520.7 362.5 518.6 361.0 515.9 360.4 513.2 360.5 511.1 361.0 509.0 362.0 507.7 363.0 505.3 366.4 503.6 371.2 502.9 375.7 502.3 382.2 501.6 403.5 499.4 415.8 498.7 422.0 498.7 424.0 499.1 425.4 500.6 426.1ZM406.8 418.6L410.2 419.0 414.4 418.8 418.5 417.9 422.6 416.5 435.6 410.9 449.3 404.1 461.0 400.0 464.3 398.0 466.6 395.9 469.1 392.5 470.7 388.4 470.9 384.3 470.1 380.8 467.6 376.0 463.6 371.2 459.6 368.2 455.5 366.5 453.5 366.2 451.4 366.3 450.0 367.1 449.6 367.8 449.3 370.6 450.2 378.8 450.0 382.9 448.3 387.7 444.9 392.5 441.9 395.2 438.4 397.8 430.8 402.4 426.7 404.4 422.6 405.5 409.6 407.3 406.3 408.3 403.6 409.6 401.4 411.7 400.8 413.1 400.8 414.4 401.5 415.8 402.7 416.9 404.5 417.9 406.6 418.5ZM337.5 397.5L338.9 397.7 340.9 397.3 344.4 394.9 347.9 390.4 349.2 388.0 350.0 385.6 350.1 382.2 348.5 377.8 345.7 373.7 344.0 371.9 342.3 370.9 340.9 370.4 338.9 370.3 336.8 371.0 335.5 371.9 334.1 373.2 332.7 375.4 331.1 380.1 330.8 384.9 332.0 390.4 334.1 394.5 335.5 396.1 337.1 397.3ZM408.2 348.7L413.7 349.0 417.0 348.6 419.3 347.9 420.6 347.2 421.1 346.6 421.1 345.9 419.9 344.5 404.5 344.5 403.9 345.2 403.9 346.6 405.4 347.8 407.6 348.6Z" fill="#ffc23e" fill-rule="evenodd"/>
<path d="M415.7 413.1L419.8 412.4 424.0 410.6 430.8 409.7 434.9 408.6 448.0 402.4 460.3 398.8 463.3 397.3 465.8 395.1 468.1 391.8 469.3 388.4 469.4 384.9 468.6 381.5 466.3 377.4 462.4 372.9 459.0 370.4 456.2 369.5 454.8 369.5 453.6 369.9 452.4 371.2 451.9 373.3 451.9 380.1 451.3 384.3 449.3 389.1 445.9 393.7 442.5 396.8 433.3 402.8 424.6 409.3 422.6 409.9 418.0 410.3 415.5 411.0 414.4 411.7 414.1 412.4 415.3 413.1ZM507.7 412.8L509.0 412.1 517.3 402.6 519.3 399.0 520.6 395.2 521.4 390.4 521.1 384.9 520.0 380.6 517.3 374.8 516.6 374.1 515.2 374.1 512.5 374.8 510.4 376.1 508.4 378.6 506.7 382.9 506.0 387.0 505.8 391.1 506.2 395.9 507.8 405.5 507.3 412.4ZM518.0 370.7L518.2 369.9 518.0 369.0 517.4 369.9 517.5 370.6Z" fill="#ff8c00" fill-rule="evenodd"/>
<path d="M445.2 399.4L454.8 398.6 459.6 397.6 461.7 396.8 463.8 395.4 465.3 393.9 466.7 391.8 467.6 389.7 468.0 387.0 467.9 384.8 467.1 382.2 465.8 379.9 463.8 377.3 461.0 374.7 459.0 373.4 457.6 373.0 456.2 373.1 454.8 374.3 454.3 376.0 453.4 382.2 452.2 386.3 450.0 390.9 445.1 398.7 445.1 399.3ZM513.2 394.6L514.5 394.4 515.2 393.7 516.2 391.1 516.1 387.7 515.5 386.3 514.5 385.4 513.2 385.3 512.5 385.8 511.6 387.0 511.1 388.9 511.1 391.1 511.4 392.5 512.2 393.9 513.0 394.5Z" fill="#f55a05" fill-rule="evenodd"/>
<path d="M455.5 396.6L459.6 396.0 462.6 394.5 465.2 391.8 466.4 388.4 466.3 384.9 464.6 381.5 461.7 378.6 460.3 377.8 459.0 377.4 457.6 377.8 456.2 379.9 451.4 393.2 451.4 394.5 452.1 395.7 453.5 396.3 455.4 396.6Z" fill="#d23c08" fill-rule="evenodd"/>
<path d="M455.5 393.9L457.6 394.4 460.3 394.0 462.6 392.5 464.1 390.4 464.7 388.4 464.5 385.6 463.5 383.6 461.7 381.9 460.3 381.4 459.0 381.7 457.6 383.0 456.8 384.3 455.5 387.0 454.4 390.4 454.4 392.5 455.4 393.9Z" fill="#a02314" fill-rule="evenodd"/>
<path d="M448.7 467.5L448.8 467.9 473.2 467.9 474.0 466.8 474.1 465.8 472.7 464.5 470.6 463.8 466.5 463.2 461.7 463.1 456.9 463.6 452.9 464.5 449.7 465.8 448.6 467.2ZM345.7 466.6L351.2 467.2 357.4 466.9 362.2 466.1 367.7 464.2 372.5 461.5 377.3 457.8 382.1 453.2 386.7 448.0 389.7 443.9 391.6 440.5 392.3 437.7 391.7 435.1 389.9 432.9 386.2 430.5 382.1 428.7 377.3 427.5 371.1 426.7 364.3 426.7 357.4 427.3 351.9 428.5 347.8 430.1 343.7 432.6 339.6 436.1 336.2 439.8 332.8 444.6 330.4 449.4 329.3 453.5 329.6 456.9 331.3 459.9 334.8 462.7 339.6 465.0 345.4 466.5ZM506.3 452.2L508.4 452.6 511.1 452.3 513.2 451.5 514.6 450.1 515.2 448.7 515.1 446.6 513.8 445.0 511.8 444.0 509.7 443.7 507.0 444.2 504.9 445.3 503.6 446.6 502.9 448.7 503.3 450.1 504.6 451.4 506.1 452.1ZM438.4 429.5L445.2 429.4 455.5 428.7 461.0 427.5 465.8 425.6 472.0 422.1 477.7 417.9 485.7 410.6 489.1 406.3 491.2 402.5 492.8 398.0 493.9 393.2 494.4 388.4 494.6 370.6 493.7 359.6 493.6 351.4 493.0 347.2 491.7 344.5 461.8 344.5 460.8 345.9 459.5 348.6 458.9 350.7 458.9 353.4 459.4 355.5 460.5 357.5 462.0 359.6 470.6 368.5 473.7 373.3 475.3 377.4 476.1 380.8 476.1 384.3 475.4 387.7 474.1 391.1 472.2 394.5 469.4 398.0 466.5 400.7 462.4 403.6 453.0 408.9 442.2 415.8 437.5 419.2 434.5 422.0 432.9 424.0 432.3 425.4 432.2 426.8 432.5 427.5 434.4 428.8 438.0 429.5ZM294.3 422.7L297.7 423.0 300.5 422.3 303.5 420.6 306.8 417.9 309.8 414.4 312.5 410.3 314.3 406.2 315.1 402.1 315.0 391.8 312.9 369.2 312.6 358.2 312.2 354.8 311.0 351.4 309.2 348.6 306.6 346.3 303.2 344.5 294.5 344.5 293.6 344.9 293.6 422.6 293.9 422.7ZM539.2 422.1L540.6 422.6 540.6 344.9 538.5 346.0 536.5 348.1 535.5 350.0 534.8 352.7 534.8 356.2 536.0 366.4 536.2 372.6 533.3 411.7 533.5 415.8 534.4 418.5 536.3 420.6 538.9 422.0ZM367.7 403.5L375.9 403.7 383.5 403.0 389.0 401.9 398.6 398.9 402.0 398.3 415.0 399.9 420.5 400.1 424.6 399.8 428.1 399.0 431.5 397.7 434.9 395.9 438.7 393.2 442.6 389.1 443.8 387.0 444.9 384.3 445.2 382.2 445.1 379.5 444.3 376.7 442.9 374.0 440.5 371.2 437.7 369.5 430.4 366.4 423.3 362.7 418.5 361.5 415.0 361.5 411.7 362.3 409.8 363.7 409.3 365.1 410.2 367.8 413.7 373.2 415.5 376.7 416.9 381.5 417.0 384.3 416.1 387.7 415.0 389.9 413.0 392.1 410.9 393.4 407.5 394.8 402.0 396.1 398.6 395.8 388.3 394.0 382.1 393.4 375.2 393.5 368.5 394.5 365.6 395.5 363.6 396.6 362.0 398.0 361.1 400.0 361.5 401.3 362.4 402.1 364.3 402.9 367.5 403.5Z" fill="#82cde6" fill-rule="evenodd"/>
<path d="M351.9 459.7L356.0 460.0 360.2 459.8 364.3 459.0 367.7 457.8 371.1 456.2 374.6 454.0 378.0 451.0 380.6 448.0 382.3 445.3 383.2 442.5 383.2 440.5 382.5 438.4 380.7 436.4 378.4 435.0 375.2 433.8 371.8 433.0 367.7 432.6 362.9 432.8 358.8 433.3 354.7 434.3 350.5 435.9 347.3 437.7 344.4 440.0 342.0 442.5 340.2 445.3 339.3 448.0 339.3 450.8 340.3 453.4 342.1 455.6 345.1 457.6 348.5 458.9 351.8 459.7ZM441.8 425.5L447.3 425.8 455.5 424.9 461.7 423.3 467.2 420.7 472.7 417.1 478.9 411.7 486.4 404.2 488.5 401.5 489.8 399.1 491.5 394.5 492.4 389.1 492.6 371.9 492.2 367.1 488.7 353.4 487.6 350.7 486.3 348.6 484.3 346.7 482.3 345.4 480.2 344.6 473.6 344.5 470.6 345.8 468.6 347.3 467.0 349.3 466.0 351.4 465.5 353.4 465.8 356.2 466.5 358.2 468.4 361.0 472.1 365.1 474.0 367.8 475.7 371.2 477.6 376.7 478.3 380.1 478.3 383.6 477.6 387.0 476.2 390.4 472.9 395.9 470.6 398.7 467.7 401.4 463.8 404.4 447.4 415.1 441.5 419.9 440.0 422.0 439.6 423.3 440.2 424.7 441.5 425.4ZM296.3 413.9L298.4 414.3 300.5 413.7 302.5 412.4 303.9 410.8 305.5 408.3 306.6 405.5 307.5 402.1 308.1 398.0 308.1 389.7 307.5 385.6 306.5 381.5 305.3 377.9 303.2 374.0 301.1 371.3 299.8 370.2 298.4 370.0 297.7 370.3 296.3 371.6 295.0 374.0 293.6 377.8 293.6 411.8 295.9 413.7ZM540.6 411.8L540.6 377.8 538.8 387.7 538.0 399.3 538.6 406.9 539.4 409.6 540.5 411.7ZM419.8 398.0L424.0 398.2 427.4 397.7 430.8 396.7 434.9 394.5 438.5 391.8 441.4 388.4 442.8 385.6 443.5 382.2 443.2 379.5 442.5 377.4 441.1 375.2 439.1 373.3 435.6 371.6 421.2 367.5 418.4 367.8 417.6 368.5 417.0 369.9 417.2 372.6 419.0 379.5 419.2 383.6 417.8 389.7 415.4 395.2 415.3 395.9 416.4 397.0 419.7 398.0Z" fill="#3cb4dc" fill-rule="evenodd"/>
<path d="M355.4 454.3L360.2 454.5 365.0 453.6 369.7 451.4 373.2 448.5 374.5 446.6 375.1 445.3 375.3 443.9 375.0 442.5 374.2 441.2 372.6 439.8 368.9 438.4 363.6 438.1 358.1 439.0 353.3 441.0 349.8 443.9 348.9 445.3 348.2 447.3 348.2 448.7 348.6 450.1 349.6 451.4 351.2 452.7 355.0 454.2ZM449.3 422.1L454.2 422.0 459.6 420.8 464.4 419.0 469.2 416.3 475.0 411.7 484.3 402.1 487.1 398.6 488.8 395.2 489.8 391.9 490.2 389.1 490.0 380.1 490.5 372.6 490.1 368.5 488.8 365.1 485.1 358.9 482.7 353.4 480.9 351.3 478.2 350.0 475.4 350.1 473.4 351.1 472.0 352.9 471.6 355.5 472.5 358.2 476.1 362.9 477.2 365.1 480.6 377.4 481.1 380.1 481.1 382.2 480.6 384.9 479.7 387.7 476.5 393.9 473.9 397.3 471.3 400.1 466.5 404.2 453.4 413.7 448.5 417.9 447.4 419.2 447.0 420.6 447.3 421.3 448.8 422.0ZM422.6 395.9L424.6 396.3 427.4 396.1 432.2 394.7 436.6 391.8 438.7 389.7 440.2 387.7 441.1 385.6 441.6 383.6 441.7 381.5 441.2 379.5 440.1 377.4 438.8 376.0 437.0 374.8 434.9 374.0 430.8 373.3 425.3 372.9 423.2 373.3 421.9 374.7 421.5 376.7 421.2 382.9 419.9 392.5 420.4 394.5 421.1 395.2 422.5 395.9Z" fill="#1e96d2" fill-rule="evenodd"/>
<path d="M456.9 417.3L458.3 417.5 460.8 417.2 465.8 415.2 470.1 412.4 474.5 408.3 483.7 397.6 485.7 394.5 486.5 392.5 486.8 389.7 486.4 387.3 485.7 386.4 485.0 386.3 483.7 387.6 479.3 394.5 475.2 399.3 458.0 413.7 456.4 415.8 456.2 416.5 456.6 417.2ZM424.6 393.9L426.0 394.3 428.1 394.3 432.2 393.2 435.6 390.9 438.4 387.7 439.7 384.3 439.7 381.5 438.4 378.8 437.0 377.5 435.6 376.7 432.2 375.9 428.8 375.9 426.3 376.7 424.6 378.3 423.3 382.4 422.3 389.1 422.7 391.8 423.5 393.2 424.5 393.9ZM485.0 376.2L485.7 376.3 486.4 375.7 487.1 374.3 487.4 372.6 487.1 369.9 485.7 367.8 484.3 367.3 483.7 367.5 483.0 368.2 482.5 369.9 483.1 373.3 483.7 374.7 484.9 376.0Z" fill="#1467b4" fill-rule="evenodd"/>
<path d="M426.7 392.0L428.8 392.3 431.5 391.7 434.3 390.1 436.5 387.7 437.7 385.0 437.8 382.9 437.0 380.8 434.9 379.0 432.9 378.3 430.1 378.4 428.1 379.1 426.3 380.8 424.9 384.3 424.4 387.7 425.0 390.4 426.3 391.8Z" fill="#0b3c8c" fill-rule="evenodd"/>
<path d="M428.8 389.8L430.1 389.9 432.2 389.2 433.6 388.2 434.9 386.3 435.4 384.3 435.1 382.9 434.3 381.8 432.9 381.1 431.5 380.9 429.5 381.5 428.1 382.8 427.4 384.0 426.9 385.6 426.9 387.7 427.7 389.1 428.7 389.7Z" fill="#0a2359" fill-rule="evenodd"/></g></g>
<rect x="293.6" y="344.5" width="247.0" height="123.4" fill="none" stroke="#1a1a1a" stroke-width="1"/>
<path d="M314.2 344.5v4.5M314.2 467.9v-4.5M334.8 344.5v4.5M334.8 467.9v-4.5M355.4 344.5v4.5M355.4 467.9v-4.5M375.9 344.5v4.5M375.9 467.9v-4.5M396.5 344.5v4.5M396.5 467.9v-4.5M417.1 344.5v4.5M417.1 467.9v-4.5M437.7 344.5v4.5M437.7 467.9v-4.5M458.3 344.5v4.5M458.3 467.9v-4.5M478.9 344.5v4.5M478.9 467.9v-4.5M499.4 344.5v4.5M499.4 467.9v-4.5M520.0 344.5v4.5M520.0 467.9v-4.5M293.6 365.1h4.5M540.6 365.1h-4.5M293.6 385.6h4.5M540.6 385.6h-4.5M293.6 406.2h4.5M540.6 406.2h-4.5M293.6 426.8h4.5M540.6 426.8h-4.5M293.6 447.3h4.5M540.6 447.3h-4.5" stroke="#1a1a1a" stroke-width="1" fill="none"/>
<g class="ax"><text x="293.6" y="475.4" text-anchor="middle">0</text><text x="314.2" y="475.4" text-anchor="middle">30E</text><text x="334.8" y="475.4" text-anchor="middle">60E</text><text x="355.4" y="475.4" text-anchor="middle">90E</text><text x="375.9" y="475.4" text-anchor="middle">120E</text><text x="396.5" y="475.4" text-anchor="middle">150E</text><text x="417.1" y="475.4" text-anchor="middle">180</text><text x="437.7" y="475.4" text-anchor="middle">150W</text><text x="458.3" y="475.4" text-anchor="middle">120W</text><text x="478.9" y="475.4" text-anchor="middle">90W</text><text x="499.4" y="475.4" text-anchor="middle">60W</text><text x="520.0" y="475.4" text-anchor="middle">30W</text><text x="540.6" y="475.4" text-anchor="middle">0</text></g>
<rect x="62.60" y="158.7" width="11.64" height="10.2" fill="#0a2359"/>
<rect x="73.94" y="158.7" width="11.64" height="10.2" fill="#0b3c8c"/>
<rect x="85.28" y="158.7" width="11.64" height="10.2" fill="#1464b4"/>
<rect x="96.61" y="158.7" width="11.64" height="10.2" fill="#1c8fcf"/>
<rect x="107.95" y="158.7" width="11.64" height="10.2" fill="#26a9dc"/>
<rect x="119.29" y="158.7" width="11.64" height="10.2" fill="#5fc3e0"/>
<rect x="130.62" y="158.7" width="11.64" height="10.2" fill="#9fdbec"/>
<rect x="141.96" y="158.7" width="11.64" height="10.2" fill="#c9edf6"/>
<rect x="153.30" y="158.7" width="11.64" height="10.2" fill="#fff6b4"/>
<rect x="164.64" y="158.7" width="11.64" height="10.2" fill="#ffe164"/>
<rect x="175.97" y="158.7" width="11.64" height="10.2" fill="#ffc33f"/>
<rect x="187.31" y="158.7" width="11.64" height="10.2" fill="#ffa01f"/>
<rect x="198.65" y="158.7" width="11.64" height="10.2" fill="#ff7f00"/>
<rect x="209.99" y="158.7" width="11.64" height="10.2" fill="#f05a05"/>
<rect x="221.32" y="158.7" width="11.64" height="10.2" fill="#cd3c05"/>
<rect x="232.66" y="158.7" width="11.64" height="10.2" fill="#a02314"/>
<text class="cb" x="73.94" y="176.9" text-anchor="middle">-0.001</text>
<text class="cb" x="96.61" y="176.9" text-anchor="middle">0</text>
<text class="cb" x="119.29" y="176.9" text-anchor="middle">0.001</text>
<text class="cb" x="141.96" y="176.9" text-anchor="middle">0.002</text>
<text class="cb" x="164.64" y="176.9" text-anchor="middle">0.003</text>
<text class="cb" x="187.31" y="176.9" text-anchor="middle">0.004</text>
<text class="cb" x="209.99" y="176.9" text-anchor="middle">0.005</text>
<text class="cb" x="232.66" y="176.9" text-anchor="middle">0.006</text>
<rect x="326.20" y="158.7" width="13.27" height="10.2" fill="#0a2359"/>
<rect x="339.17" y="158.7" width="13.27" height="10.2" fill="#0b3c8c"/>
<rect x="352.14" y="158.7" width="13.27" height="10.2" fill="#1467b4"/>
<rect x="365.11" y="158.7" width="13.27" height="10.2" fill="#1e96d2"/>
<rect x="378.09" y="158.7" width="13.27" height="10.2" fill="#3cb4dc"/>
<rect x="391.06" y="158.7" width="13.27" height="10.2" fill="#82cde6"/>
<rect x="404.03" y="158.7" width="13.27" height="10.2" fill="#bde7f4"/>
<rect x="417.00" y="158.7" width="13.27" height="10.2" fill="#fff5b4"/>
<rect x="429.97" y="158.7" width="13.27" height="10.2" fill="#ffdf66"/>
<rect x="442.94" y="158.7" width="13.27" height="10.2" fill="#ffc23e"/>
<rect x="455.91" y="158.7" width="13.27" height="10.2" fill="#ff8c00"/>
<rect x="468.89" y="158.7" width="13.27" height="10.2" fill="#f55a05"/>
<rect x="481.86" y="158.7" width="13.27" height="10.2" fill="#d23c08"/>
<rect x="494.83" y="158.7" width="13.27" height="10.2" fill="#a02314"/>
<text class="cb" x="339.17" y="176.9" text-anchor="middle">-0.012</text>
<text class="cb" x="365.11" y="176.9" text-anchor="middle">-0.008</text>
<text class="cb" x="391.06" y="176.9" text-anchor="middle">-0.004</text>
<text class="cb" x="417.00" y="176.9" text-anchor="middle">0</text>
<text class="cb" x="442.94" y="176.9" text-anchor="middle">0.004</text>
<text class="cb" x="468.89" y="176.9" text-anchor="middle">0.008</text>
<text class="cb" x="494.83" y="176.9" text-anchor="middle">0.012</text>
<rect x="62.50" y="485.6" width="13.29" height="10.6" fill="#0a2359"/>
<rect x="75.49" y="485.6" width="13.29" height="10.6" fill="#0b3c8c"/>
<rect x="88.47" y="485.6" width="13.29" height="10.6" fill="#1467b4"/>
<rect x="101.46" y="485.6" width="13.29" height="10.6" fill="#1e96d2"/>
<rect x="114.44" y="485.6" width="13.29" height="10.6" fill="#3cb4dc"/>
<rect x="127.43" y="485.6" width="13.29" height="10.6" fill="#82cde6"/>
<rect x="140.41" y="485.6" width="13.29" height="10.6" fill="#bde7f4"/>
<rect x="153.40" y="485.6" width="13.29" height="10.6" fill="#fff5b4"/>
<rect x="166.39" y="485.6" width="13.29" height="10.6" fill="#ffdf66"/>
<rect x="179.37" y="485.6" width="13.29" height="10.6" fill="#ffc23e"/>
<rect x="192.36" y="485.6" width="13.29" height="10.6" fill="#ff8c00"/>
<rect x="205.34" y="485.6" width="13.29" height="10.6" fill="#f55a05"/>
<rect x="218.33" y="485.6" width="13.29" height="10.6" fill="#d23c08"/>
<rect x="231.31" y="485.6" width="13.29" height="10.6" fill="#a02314"/>
<text class="cb" x="75.49" y="504.2" text-anchor="middle">-0.012</text>
<text class="cb" x="101.46" y="504.2" text-anchor="middle">-0.008</text>
<text class="cb" x="127.43" y="504.2" text-anchor="middle">-0.004</text>
<text class="cb" x="153.40" y="504.2" text-anchor="middle">0</text>
<text class="cb" x="179.37" y="504.2" text-anchor="middle">0.004</text>
<text class="cb" x="205.34" y="504.2" text-anchor="middle">0.008</text>
<text class="cb" x="231.31" y="504.2" text-anchor="middle">0.012</text>
<rect x="326.10" y="485.6" width="13.27" height="10.6" fill="#0a2359"/>
<rect x="339.07" y="485.6" width="13.27" height="10.6" fill="#0b3c8c"/>
<rect x="352.04" y="485.6" width="13.27" height="10.6" fill="#1467b4"/>
<rect x="365.01" y="485.6" width="13.27" height="10.6" fill="#1e96d2"/>
<rect x="377.99" y="485.6" width="13.27" height="10.6" fill="#3cb4dc"/>
<rect x="390.96" y="485.6" width="13.27" height="10.6" fill="#82cde6"/>
<rect x="403.93" y="485.6" width="13.27" height="10.6" fill="#bde7f4"/>
<rect x="416.90" y="485.6" width="13.27" height="10.6" fill="#fff5b4"/>
<rect x="429.87" y="485.6" width="13.27" height="10.6" fill="#ffdf66"/>
<rect x="442.84" y="485.6" width="13.27" height="10.6" fill="#ffc23e"/>
<rect x="455.81" y="485.6" width="13.27" height="10.6" fill="#ff8c00"/>
<rect x="468.79" y="485.6" width="13.27" height="10.6" fill="#f55a05"/>
<rect x="481.76" y="485.6" width="13.27" height="10.6" fill="#d23c08"/>
<rect x="494.73" y="485.6" width="13.27" height="10.6" fill="#a02314"/>
<text class="cb" x="339.07" y="504.2" text-anchor="middle">-0.012</text>
<text class="cb" x="365.01" y="504.2" text-anchor="middle">-0.008</text>
<text class="cb" x="390.96" y="504.2" text-anchor="middle">-0.004</text>
<text class="cb" x="416.90" y="504.2" text-anchor="middle">0</text>
<text class="cb" x="442.84" y="504.2" text-anchor="middle">0.004</text>
<text class="cb" x="468.79" y="504.2" text-anchor="middle">0.008</text>
<text class="cb" x="494.73" y="504.2" text-anchor="middle">0.012</text>
<text class="pl" x="9.2" y="12.2" textLength="9.7" lengthAdjust="spacingAndGlyphs">(a)</text>
<text class="ti" x="141.9" y="13.0" textLength="23.6" lengthAdjust="spacingAndGlyphs">initial</text>
<text class="pl" x="281.9" y="12.4" textLength="9.6" lengthAdjust="spacingAndGlyphs">(b)</text>
<text class="ti" x="378.2" y="12.8" textLength="20.8" lengthAdjust="spacingAndGlyphs">QDIA</text>
<text class="ts" x="402.7" y="12.8" textLength="46.4" lengthAdjust="spacingAndGlyphs">(0.9788976)</text>
<text class="pl" x="9.4" y="192.6" textLength="9.4" lengthAdjust="spacingAndGlyphs">(c)</text>
<text class="ti" x="117.0" y="193.8" textLength="17.0" lengthAdjust="spacingAndGlyphs">X=0</text>
<text class="ts" x="136.0" y="193.8" textLength="46.0" lengthAdjust="spacingAndGlyphs">(0.9999279)</text>
<text class="pl" x="282.0" y="193.2" textLength="9.8" lengthAdjust="spacingAndGlyphs">(d)</text>
<text class="ti" x="375.0" y="193.7" textLength="26.0" lengthAdjust="spacingAndGlyphs">X=1/2</text>
<text class="ts" x="403.0" y="193.7" textLength="46.0" lengthAdjust="spacingAndGlyphs">(0.9994314)</text>
<text class="pl" x="9.2" y="338.0" textLength="9.6" lengthAdjust="spacingAndGlyphs">(e)</text>
<text class="ti" x="117.0" y="338.5" textLength="16.0" lengthAdjust="spacingAndGlyphs">X=1</text>
<text class="ts" x="136.0" y="338.5" textLength="46.0" lengthAdjust="spacingAndGlyphs">(0.9994783)</text>
<text class="pl" x="282.2" y="338.6" textLength="7.4" lengthAdjust="spacingAndGlyphs">(f)</text>
<text class="ti" x="400.0" y="338.2" textLength="18.7" lengthAdjust="spacingAndGlyphs">DNS</text>
<text class="ts" x="421.3" y="338.2" textLength="16.9" lengthAdjust="spacingAndGlyphs">(1.0)</text>
<text class="cl" x="133.40 139.45 145.50 151.55 157.60 163.65 169.70" y="64.8" text-anchor="middle">0.00601</text>
<text class="cl" x="321.30 327.35 333.40 339.45 345.50 351.55" y="67.5" text-anchor="middle">0.0046</text>
<text class="cl" x="386.30 392.35 398.40 404.45 410.50 416.55" y="60.7" text-anchor="middle">0.0026</text>
<text class="cl" x="441.70 447.75 453.80 459.85 465.90 471.95" y="69.7" text-anchor="middle">0.0128</text>
<text class="cl" x="496.10 502.15 508.20 514.25 520.30 526.35" y="72.7" text-anchor="middle">0.0081</text>
<text class="cl" x="297.80 303.85 309.90 315.95 322.00 328.05" y="117.3" text-anchor="middle">0.0032</text>
<text class="cl" x="399.80 405.85 411.90 417.95 424.00 430.05" y="134.7" text-anchor="middle">0.0057</text>
<text class="cl" x="57.60 63.65 69.70 75.75 81.80 87.85" y="248.3" text-anchor="middle">0.0047</text>
<text class="cl" x="122.60 128.65 134.70 140.75 146.80 152.85" y="241.5" text-anchor="middle">0.0028</text>
<text class="cl" x="178.00 184.05 190.10 196.15 202.20 208.25" y="250.5" text-anchor="middle">0.0139</text>
<text class="cl" x="232.40 238.45 244.50 250.55 256.60 262.65" y="253.5" text-anchor="middle">0.0088</text>
<text class="cl" x="34.10 40.15 46.20 52.25 58.30 64.35" y="298.1" text-anchor="middle">0.0033</text>
<text class="cl" x="136.10 142.15 148.20 154.25 160.30 166.35" y="315.5" text-anchor="middle">0.0058</text>
<text class="cl" x="320.60 326.65 332.70 338.75 344.80 350.85" y="248.3" text-anchor="middle">0.0046</text>
<text class="cl" x="385.60 391.65 397.70 403.75 409.80 415.85" y="241.5" text-anchor="middle">0.0027</text>
<text class="cl" x="441.00 447.05 453.10 459.15 465.20 471.25" y="250.5" text-anchor="middle">0.0128</text>
<text class="cl" x="495.40 501.45 507.50 513.55 519.60 525.65" y="253.5" text-anchor="middle">0.0081</text>
<text class="cl" x="297.10 303.15 309.20 315.25 321.30 327.35" y="298.1" text-anchor="middle">0.0032</text>
<text class="cl" x="399.10 405.15 411.20 417.25 423.30 429.35" y="315.5" text-anchor="middle">0.0057</text>
<text class="cl" x="57.60 63.65 69.70 75.75 81.80 87.85" y="393.0" text-anchor="middle">0.0046</text>
<text class="cl" x="122.60 128.65 134.70 140.75 146.80 152.85" y="386.2" text-anchor="middle">0.0027</text>
<text class="cl" x="178.00 184.05 190.10 196.15 202.20 208.25" y="395.2" text-anchor="middle">0.0129</text>
<text class="cl" x="232.40 238.45 244.50 250.55 256.60 262.65" y="398.2" text-anchor="middle">0.0081</text>
<text class="cl" x="34.10 40.15 46.20 52.25 58.30 64.35" y="442.8" text-anchor="middle">0.0032</text>
<text class="cl" x="136.10 142.15 148.20 154.25 160.30 166.35" y="460.2" text-anchor="middle">0.0057</text>
<text class="cl" x="321.30 327.35 333.40 339.45 345.50 351.55" y="393.0" text-anchor="middle">0.0047</text>
<text class="cl" x="386.30 392.35 398.40 404.45 410.50 416.55" y="386.2" text-anchor="middle">0.0028</text>
<text class="cl" x="441.70 447.75 453.80 459.85 465.90 471.95" y="395.2" text-anchor="middle">0.0137</text>
<text class="cl" x="496.10 502.15 508.20 514.25 520.30 526.35" y="398.2" text-anchor="middle">0.0085</text>
<text class="cl" x="297.80 303.85 309.90 315.95 322.00 328.05" y="442.8" text-anchor="middle">0.0033</text>
<text class="cl" x="399.80 405.85 411.90 417.95 424.00 430.05" y="460.2" text-anchor="middle">0.0058</text>
</svg>
</body></html>
